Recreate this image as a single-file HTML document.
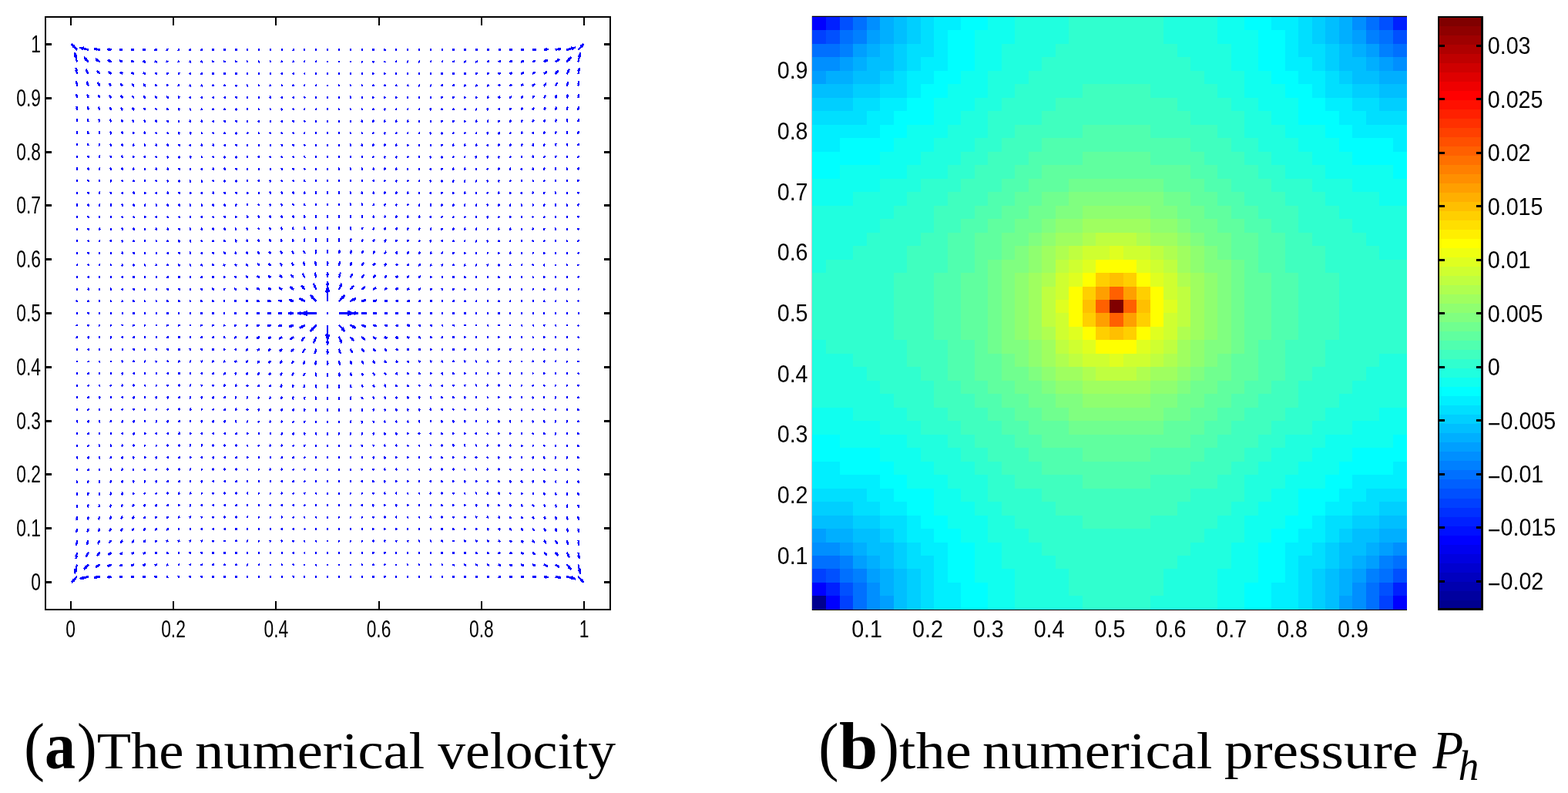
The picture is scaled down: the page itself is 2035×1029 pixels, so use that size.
<!DOCTYPE html>
<html><head><meta charset="utf-8"><title>Numerical velocity and pressure</title>
<style>
html,body{margin:0;padding:0;background:#fff}
body{width:2035px;height:1029px;overflow:hidden}
svg{display:block}
</style></head><body>
<svg width="2035" height="1029" viewBox="0 0 2035 1029">
<rect width="2035" height="1029" fill="#fff"/>
<g transform="scale(0.7526 1)" fill="none" stroke="#0000ff" shape-rendering="crispEdges">
<path d="M133.1 748L123.2 755.8M152.8 748.2L137.5 751.2M172.5 748.3L162.2 749.7M192.1 748.3L184.3 749.1M211.8 748.3L205.4 748.8M231.4 748.3L226 748.7M251 748.3L246.3 748.6M270.7 748.3L266.4 748.5M290.3 748.3L286.4 748.5M310 748.3L306.3 748.5M329.6 748.3L326.2 748.5M349.3 748.3L346.1 748.5M368.9 748.3L365.9 748.4M388.6 748.3L385.7 748.4M408.2 748.3L405.5 748.4M427.9 748.3L425.2 748.5M447.5 748.3L445 748.5M467.2 748.3L464.8 748.5M486.8 748.3L484.5 748.5M506.5 748.3L504.3 748.6M526.1 748.2L524 748.6M545.7 748.1L543.9 748.9M564.9 747.8L564.9 749.8M584.1 748.1L586 748.9M603.7 748.2L605.8 748.6M623.4 748.3L625.5 748.6M643 748.3L645.3 748.5M662.6 748.3L665.1 748.5M682.3 748.3L684.8 748.5M701.9 748.3L704.6 748.5M721.6 748.3L724.4 748.4M741.2 748.3L744.1 748.4M760.9 748.3L763.9 748.4M780.5 748.3L783.8 748.5M800.2 748.3L803.6 748.5M819.8 748.3L823.5 748.5M839.5 748.3L843.4 748.5M859.1 748.3L863.4 748.5M878.8 748.3L883.6 748.6M898.4 748.3L903.8 748.7M918.1 748.3L924.4 748.8M937.7 748.3L945.5 749.1M957.4 748.3L967.6 749.7M977 748.2L992.3 751.2M996.8 748L1006.6 755.8M132.8 732.3L129 744.7M152.7 732.5L144.7 738.8M172.4 732.6L164.8 736.2M192.1 732.6L185.4 734.9M211.7 732.7L205.9 734.2M231.4 732.7L226.3 733.8M251 732.7L246.4 733.6M270.7 732.7L266.5 733.4M290.3 732.7L286.5 733.3M310 732.7L306.4 733.2M329.6 732.7L326.2 733.2M349.3 732.7L346.1 733.2M368.9 732.7L365.9 733.1M388.6 732.7L385.7 733.1M408.2 732.7L405.5 733.1M427.9 732.7L425.3 733.2M447.5 732.7L445 733.2M467.2 732.7L464.8 733.2M486.8 732.6L484.6 733.3M506.4 732.6L504.4 733.4M526 732.5L524.2 733.6M545.6 732.4L544.3 734M564.9 732.3L564.9 734.3M584.2 732.4L585.6 734M603.8 732.5L605.6 733.6M623.4 732.6L625.5 733.4M643 732.6L645.3 733.3M662.7 732.7L665 733.2M682.3 732.7L684.8 733.2M701.9 732.7L704.6 733.2M721.6 732.7L724.3 733.1M741.2 732.7L744.1 733.1M760.9 732.7L763.9 733.1M780.5 732.7L783.7 733.2M800.2 732.7L803.6 733.2M819.8 732.7L823.4 733.2M839.5 732.7L843.4 733.3M859.1 732.7L863.3 733.4M878.8 732.7L883.4 733.6M898.4 732.7L903.6 733.8M918.1 732.7L923.9 734.2M937.7 732.6L944.4 734.9M957.4 732.6L965 736.2M977.1 732.5L985.1 738.8M997 732.3L1000.8 744.7M132.8 716.8L130.8 725.2M152.6 716.8L148 723.1M172.4 716.9L166.9 721.2M192 717L186.7 720M211.7 717L206.7 719.3M231.4 717.1L226.7 718.8M251 717.1L246.7 718.4M270.7 717.1L266.7 718.2M290.3 717.1L286.6 718.1M310 717.1L306.5 718M329.6 717.1L326.3 717.9M349.3 717.1L346.1 717.8M368.9 717.1L365.9 717.8M388.6 717.1L385.7 717.8M408.2 717.1L405.5 717.8M427.9 717.1L425.3 717.8M447.5 717.1L445.1 717.9M467.1 717.1L464.9 718M486.8 717L484.7 718.1M506.4 717L504.5 718.2M526 716.9L524.4 718.4M545.5 716.8L544.5 718.7M564.9 716.8L564.9 718.9M584.3 716.8L585.3 718.7M603.8 716.9L605.4 718.4M623.4 717L625.3 718.2M643 717L645.2 718.1M662.7 717.1L665 718M682.3 717.1L684.7 717.9M702 717.1L704.5 717.8M721.6 717.1L724.3 717.8M741.2 717.1L744.1 717.8M760.9 717.1L763.9 717.8M780.5 717.1L783.7 717.8M800.2 717.1L803.5 717.9M819.8 717.1L823.3 718M839.5 717.1L843.2 718.1M859.1 717.1L863.1 718.2M878.8 717.1L883.1 718.4M898.4 717.1L903.1 718.8M918.1 717L923.1 719.3M937.8 717L943.1 720M957.5 716.9L962.9 721.2M977.2 716.8L981.9 723.1M997 716.8L999 725.2M132.8 701.2L131.6 707.8M152.5 701.3L149.6 706.8M172.3 701.3L168.4 705.7M192 701.4L187.8 704.8M211.7 701.4L207.4 704.1M231.3 701.5L227.2 703.6M251 701.5L247.1 703.2M270.7 701.5L266.9 703M290.3 701.5L286.8 702.8M310 701.6L306.6 702.7M329.6 701.6L326.4 702.6M349.3 701.6L346.2 702.5M368.9 701.6L366 702.5M388.6 701.6L385.8 702.5M408.2 701.5L405.6 702.5M427.8 701.5L425.4 702.5M447.5 701.5L445.1 702.6M467.1 701.5L464.9 702.7M486.7 701.4L484.8 702.8M506.3 701.4L504.6 702.9M525.9 701.3L524.6 703.1M545.4 701.2L544.7 703.3M564.9 701.2L564.9 703.4M584.4 701.2L585.1 703.3M603.9 701.3L605.2 703.1M623.5 701.4L625.2 702.9M643.1 701.4L645.1 702.8M662.7 701.5L664.9 702.7M682.3 701.5L684.7 702.6M702 701.5L704.5 702.5M721.6 701.5L724.2 702.5M741.3 701.6L744 702.5M760.9 701.6L763.8 702.5M780.6 701.6L783.6 702.5M800.2 701.6L803.4 702.6M819.9 701.6L823.2 702.7M839.5 701.5L843 702.8M859.2 701.5L862.9 703M878.8 701.5L882.7 703.2M898.5 701.5L902.6 703.6M918.1 701.4L922.4 704.1M937.8 701.4L942.1 704.8M957.5 701.3L961.4 705.7M977.3 701.3L980.2 706.8M997.1 701.2L998.2 707.8M132.7 685.7L132 691.1M152.5 685.7L150.4 690.6M172.2 685.8L169.3 689.9M192 685.8L188.6 689.2M211.6 685.9L208.1 688.7M231.3 685.9L227.7 688.2M251 685.9L247.4 687.9M270.6 685.9L267.2 687.6M290.3 686L287 687.5M310 686L306.8 687.3M329.6 686L326.5 687.2M349.3 686L346.3 687.2M368.9 686L366.1 687.1M388.5 686L385.9 687.1M408.2 686L405.6 687.1M427.8 685.9L425.4 687.2M447.5 685.9L445.2 687.3M467.1 685.9L465 687.3M486.7 685.8L484.9 687.5M506.3 685.8L504.8 687.6M525.9 685.7L524.7 687.8M545.4 685.7L544.8 687.9M564.9 685.7L564.9 687.9M584.4 685.7L585 687.9M604 685.7L605.1 687.8M623.5 685.8L625.1 687.6M643.1 685.8L645 687.5M662.7 685.9L664.8 687.3M682.4 685.9L684.6 687.3M702 685.9L704.4 687.2M721.6 686L724.2 687.1M741.3 686L744 687.1M760.9 686L763.7 687.1M780.6 686L783.5 687.2M800.2 686L803.3 687.2M819.9 686L823 687.3M839.5 686L842.8 687.5M859.2 685.9L862.6 687.6M878.8 685.9L882.4 687.9M898.5 685.9L902.1 688.2M918.2 685.9L921.7 688.7M937.9 685.8L941.2 689.2M957.6 685.8L960.5 689.9M977.3 685.7L979.4 690.6M997.1 685.7L997.8 691.1M132.7 670.1L132.2 674.8M152.5 670.2L151 674.5M172.2 670.2L169.9 674.1M191.9 670.2L189.2 673.6M211.6 670.3L208.6 673.2M231.3 670.3L228.1 672.8M251 670.3L247.8 672.5M270.6 670.4L267.5 672.3M290.3 670.4L287.2 672.1M309.9 670.4L306.9 671.9M329.6 670.4L326.7 671.8M349.2 670.4L346.4 671.8M368.9 670.4L366.2 671.8M388.5 670.4L385.9 671.8M408.2 670.4L405.7 671.8M427.8 670.4L425.5 671.8M447.4 670.3L445.3 671.9M467 670.3L465.1 672M486.7 670.3L485 672.1M506.3 670.2L504.9 672.2M525.8 670.2L524.8 672.4M545.4 670.1L544.8 672.4M564.9 670.1L564.9 672.5M584.4 670.1L585 672.4M604 670.2L605 672.4M623.6 670.2L625 672.2M643.2 670.3L644.9 672.1M662.8 670.3L664.7 672M682.4 670.3L684.5 671.9M702 670.4L704.3 671.8M721.7 670.4L724.1 671.8M741.3 670.4L743.9 671.8M760.9 670.4L763.6 671.8M780.6 670.4L783.4 671.8M800.2 670.4L803.1 671.8M819.9 670.4L822.9 671.9M839.5 670.4L842.6 672.1M859.2 670.4L862.3 672.3M878.9 670.3L882 672.5M898.5 670.3L901.7 672.8M918.2 670.3L921.2 673.2M937.9 670.2L940.6 673.6M957.6 670.2L959.9 674.1M977.3 670.2L978.9 674.5M997.1 670.1L997.6 674.8M132.7 654.6L132.3 658.8M152.5 654.6L151.3 658.6M172.2 654.6L170.4 658.3M191.9 654.7L189.6 658M211.6 654.7L209 657.6M231.3 654.8L228.5 657.3M250.9 654.8L248.1 657M270.6 654.8L267.7 656.8M290.3 654.8L287.4 656.7M309.9 654.8L307.1 656.5M329.6 654.8L326.8 656.4M349.2 654.8L346.5 656.4M368.9 654.8L366.3 656.4M388.5 654.8L386 656.4M408.1 654.8L405.8 656.4M427.8 654.8L425.6 656.4M447.4 654.8L445.3 656.5M467 654.7L465.2 656.6M486.6 654.7L485 656.7M506.2 654.7L504.9 656.8M525.8 654.6L524.9 656.9M545.4 654.6L544.9 657M564.9 654.6L564.9 657M584.5 654.6L584.9 657M604 654.6L604.9 656.9M623.6 654.7L624.9 656.8M643.2 654.7L644.8 656.7M662.8 654.7L664.6 656.6M682.4 654.8L684.5 656.5M702 654.8L704.3 656.4M721.7 654.8L724 656.4M741.3 654.8L743.8 656.4M761 654.8L763.6 656.4M780.6 654.8L783.3 656.4M800.2 654.8L803 656.4M819.9 654.8L822.7 656.5M839.6 654.8L842.4 656.7M859.2 654.8L862.1 656.8M878.9 654.8L881.7 657M898.5 654.8L901.3 657.3M918.2 654.7L920.8 657.6M937.9 654.7L940.2 658M957.6 654.6L959.5 658.3M977.4 654.6L978.6 658.6M997.1 654.6L997.5 658.8M132.7 639.1L132.4 642.9M152.4 639.1L151.5 642.7M172.2 639.1L170.6 642.5M191.9 639.1L189.9 642.3M211.6 639.2L209.3 642M231.2 639.2L228.8 641.8M250.9 639.2L248.3 641.5M270.6 639.2L267.9 641.3M290.2 639.3L287.6 641.2M309.9 639.3L307.2 641.1M329.6 639.3L326.9 641M349.2 639.3L346.6 641M368.9 639.3L366.3 640.9M388.5 639.3L386.1 640.9M408.1 639.2L405.8 641M427.8 639.2L425.6 641M447.4 639.2L445.4 641.1M467 639.2L465.2 641.2M486.6 639.1L485.1 641.3M506.2 639.1L505 641.4M525.8 639.1L524.9 641.5M545.3 639.1L544.9 641.6M564.9 639L564.9 641.6M584.5 639.1L584.9 641.6M604 639.1L604.9 641.5M623.6 639.1L624.8 641.4M643.2 639.1L644.7 641.3M662.8 639.2L664.6 641.2M682.4 639.2L684.4 641.1M702.1 639.2L704.2 641M721.7 639.2L724 641M741.3 639.3L743.7 640.9M761 639.3L763.5 640.9M780.6 639.3L783.2 641M800.3 639.3L802.9 641M819.9 639.3L822.6 641.1M839.6 639.3L842.3 641.2M859.2 639.2L861.9 641.3M878.9 639.2L881.5 641.5M898.6 639.2L901 641.8M918.3 639.2L920.5 642M937.9 639.1L939.9 642.3M957.7 639.1L959.2 642.5M977.4 639.1L978.3 642.7M997.1 639.1L997.4 642.9M132.7 623.5L132.4 627M152.4 623.5L151.6 627M172.1 623.5L170.8 626.8M191.9 623.6L190.2 626.6M211.5 623.6L209.5 626.4M231.2 623.6L229 626.2M250.9 623.7L248.5 626M270.6 623.7L268.1 625.8M290.2 623.7L287.7 625.7M309.9 623.7L307.3 625.6M329.5 623.7L327 625.5M349.2 623.7L346.7 625.5M368.8 623.7L366.4 625.5M388.5 623.7L386.1 625.5M408.1 623.7L405.9 625.5M427.7 623.7L425.6 625.6M447.4 623.6L445.4 625.7M467 623.6L465.3 625.8M486.6 623.6L485.1 625.9M506.2 623.6L505 626M525.8 623.5L525 626.1M545.3 623.5L544.9 626.1M564.9 623.5L564.9 626.2M584.5 623.5L584.9 626.1M604.1 623.5L604.9 626.1M623.6 623.6L624.8 626M643.2 623.6L644.7 625.9M662.8 623.6L664.6 625.8M682.4 623.6L684.4 625.7M702.1 623.7L704.2 625.6M721.7 623.7L723.9 625.5M741.3 623.7L743.7 625.5M761 623.7L763.4 625.5M780.6 623.7L783.1 625.5M800.3 623.7L802.8 625.5M819.9 623.7L822.5 625.6M839.6 623.7L842.1 625.7M859.2 623.7L861.7 625.8M878.9 623.7L881.3 626M898.6 623.6L900.8 626.2M918.3 623.6L920.3 626.4M938 623.6L939.7 626.6M957.7 623.5L959 626.8M977.4 623.5L978.2 627M997.1 623.5L997.4 627M132.7 608L132.5 611.3M152.4 608L151.7 611.2M172.1 608L171 611.1M191.8 608L190.3 610.9M211.5 608.1L209.7 610.8M231.2 608.1L229.2 610.6M250.9 608.1L248.7 610.4M270.6 608.1L268.2 610.3M290.2 608.1L287.8 610.2M309.9 608.2L307.4 610.1M329.5 608.2L327.1 610M349.2 608.2L346.7 610M368.8 608.2L366.4 610M388.5 608.2L386.2 610M408.1 608.1L405.9 610.1M427.7 608.1L425.6 610.2M447.4 608.1L445.4 610.3M467 608.1L465.3 610.4M486.6 608L485.1 610.5M506.2 608L505 610.6M525.8 608L525 610.7M545.3 608L544.9 610.7M564.9 608L564.9 610.7M584.5 608L584.9 610.7M604.1 608L604.9 610.7M623.6 608L624.8 610.6M643.2 608L644.7 610.5M662.8 608.1L664.6 610.4M682.5 608.1L684.4 610.3M702.1 608.1L704.2 610.2M721.7 608.1L723.9 610.1M741.3 608.2L743.7 610M761 608.2L763.4 610M780.6 608.2L783.1 610M800.3 608.2L802.7 610M819.9 608.2L822.4 610.1M839.6 608.1L842 610.2M859.3 608.1L861.6 610.3M878.9 608.1L881.1 610.4M898.6 608.1L900.7 610.6M918.3 608.1L920.1 610.8M938 608L939.5 610.9M957.7 608L958.8 611.1M977.4 608L978.1 611.2M997.1 608L997.4 611.3M132.7 592.4L132.5 595.5M152.4 592.4L151.8 595.5M172.1 592.5L171.1 595.4M191.8 592.5L190.4 595.3M211.5 592.5L209.8 595.1M231.2 592.5L229.3 595M250.9 592.6L248.8 594.8M270.6 592.6L268.3 594.7M290.2 592.6L287.9 594.6M309.9 592.6L307.5 594.6M329.5 592.6L327.1 594.5M349.2 592.6L346.8 594.5M368.8 592.6L366.5 594.5M388.5 592.6L386.2 594.6M408.1 592.6L405.9 594.6M427.7 592.6L425.6 594.7M447.3 592.5L445.4 594.8M467 592.5L465.2 594.9M486.6 592.5L485.1 595M506.2 592.5L505 595.1M525.8 592.4L525 595.2M545.3 592.4L544.9 595.3M564.9 592.4L564.9 595.3M584.5 592.4L584.9 595.3M604.1 592.4L604.9 595.2M623.7 592.5L624.8 595.1M643.2 592.5L644.7 595M662.9 592.5L664.6 594.9M682.5 592.5L684.4 594.8M702.1 592.6L704.2 594.7M721.7 592.6L723.9 594.6M741.4 592.6L743.7 594.6M761 592.6L763.4 594.5M780.6 592.6L783 594.5M800.3 592.6L802.7 594.5M819.9 592.6L822.3 594.6M839.6 592.6L841.9 594.6M859.3 592.6L861.5 594.7M878.9 592.6L881 594.8M898.6 592.5L900.5 595M918.3 592.5L920 595.1M938 592.5L939.4 595.3M957.7 592.5L958.7 595.4M977.4 592.4L978.1 595.5M997.1 592.4L997.3 595.5M132.7 576.9L132.5 579.8M152.4 576.9L151.8 579.8M172.1 576.9L171.1 579.7M191.8 576.9L190.5 579.6M211.5 577L209.9 579.5M231.2 577L229.4 579.4M250.9 577L248.8 579.2M270.6 577L268.4 579.1M290.2 577.1L287.9 579.1M309.9 577.1L307.5 579M329.5 577.1L327.1 579M349.2 577.1L346.8 579M368.8 577.1L366.4 579M388.5 577.1L386.1 579M408.1 577.1L405.8 579.1M427.7 577L425.6 579.2M447.3 577L445.4 579.3M467 577L465.2 579.5M486.6 577L485 579.6M506.2 576.9L505 579.7M525.8 576.9L524.9 579.8M545.3 576.9L544.9 579.9M564.9 576.9L564.9 579.9M584.5 576.9L584.9 579.9M604.1 576.9L604.9 579.8M623.7 576.9L624.9 579.7M643.2 577L644.8 579.6M662.9 577L664.6 579.5M682.5 577L684.5 579.3M702.1 577L704.2 579.2M721.7 577.1L724 579.1M741.4 577.1L743.7 579M761 577.1L763.4 579M780.6 577.1L783 579M800.3 577.1L802.7 579M819.9 577.1L822.3 579M839.6 577.1L841.9 579.1M859.3 577L861.4 579.1M878.9 577L881 579.2M898.6 577L900.5 579.4M918.3 577L919.9 579.5M938 576.9L939.3 579.6M957.7 576.9L958.7 579.7M977.4 576.9L978 579.8M997.1 576.9L997.3 579.8M132.7 561.4L132.5 564.2M152.4 561.4L151.8 564.1M172.1 561.4L171.2 564.1M191.8 561.4L190.5 564M211.5 561.4L209.9 563.8M231.2 561.5L229.4 563.7M250.9 561.5L248.9 563.6M270.6 561.5L268.4 563.5M290.2 561.5L288 563.5M309.9 561.5L307.5 563.4M329.5 561.5L327.1 563.4M349.2 561.5L346.8 563.4M368.8 561.5L366.4 563.5M388.5 561.5L386.1 563.5M408.1 561.5L405.8 563.6M427.7 561.5L425.5 563.7M447.4 561.5L445.3 563.9M467 561.4L465.1 564M486.6 561.4L485 564.2M506.2 561.4L504.9 564.3M525.8 561.4L524.9 564.4M545.3 561.4L544.9 564.5M564.9 561.3L564.9 564.6M584.5 561.4L584.9 564.5M604.1 561.4L605 564.4M623.6 561.4L624.9 564.3M643.2 561.4L644.9 564.2M662.9 561.4L664.7 564M682.5 561.5L684.5 563.9M702.1 561.5L704.3 563.7M721.7 561.5L724 563.6M741.4 561.5L743.7 563.5M761 561.5L763.4 563.5M780.6 561.5L783.1 563.4M800.3 561.5L802.7 563.4M819.9 561.5L822.3 563.4M839.6 561.5L841.9 563.5M859.3 561.5L861.4 563.5M878.9 561.5L880.9 563.6M898.6 561.5L900.4 563.7M918.3 561.4L919.9 563.8M938 561.4L939.3 564M957.7 561.4L958.7 564.1M977.4 561.4L978 564.1M997.1 561.4L997.3 564.2M132.7 545.8L132.5 548.5M152.4 545.8L151.8 548.5M172.1 545.8L171.2 548.4M191.8 545.9L190.5 548.3M211.5 545.9L210 548.2M231.2 545.9L229.4 548.1M250.9 546L248.9 548M270.6 546L268.4 547.9M290.2 546L287.9 547.9M309.9 546L307.5 547.8M329.5 546L327.1 547.8M349.2 546L346.7 547.8M368.8 546L366.3 547.9M388.5 546L386 548M408.1 546L405.7 548.1M427.7 546L425.4 548.2M447.4 545.9L445.1 548.4M467 545.9L464.9 548.6M486.6 545.9L484.8 548.7M506.2 545.9L504.8 548.9M525.8 545.8L524.8 549.1M545.3 545.8L544.8 549.2M564.9 545.8L564.9 549.2M584.5 545.8L585 549.2M604.1 545.8L605.1 549.1M623.6 545.9L625.1 548.9M643.2 545.9L645 548.7M662.8 545.9L664.9 548.6M682.5 545.9L684.7 548.4M702.1 546L704.4 548.2M721.7 546L724.1 548.1M741.3 546L743.8 548M761 546L763.5 547.9M780.6 546L783.1 547.8M800.3 546L802.7 547.8M819.9 546L822.3 547.8M839.6 546L841.9 547.9M859.2 546L861.4 547.9M878.9 546L880.9 548M898.6 545.9L900.4 548.1M918.3 545.9L919.9 548.2M938 545.9L939.3 548.3M957.7 545.8L958.7 548.4M977.4 545.8L978 548.5M997.1 545.8L997.3 548.5M132.7 530.3L132.5 532.9M152.4 530.3L151.8 532.8M172.2 530.3L171.1 532.7M191.9 530.3L190.5 532.6M211.6 530.4L209.9 532.5M231.2 530.4L229.4 532.4M250.9 530.4L248.9 532.4M270.6 530.5L268.4 532.3M290.2 530.5L287.9 532.2M309.9 530.5L307.5 532.2M329.6 530.5L327 532.2M349.2 530.5L346.6 532.2M368.8 530.5L366.2 532.3M388.5 530.5L385.9 532.4M408.1 530.5L405.5 532.5M427.8 530.4L425.2 532.7M447.4 530.4L445 532.9M467 530.4L464.7 533.1M486.6 530.4L484.6 533.3M506.2 530.3L504.6 533.5M525.8 530.3L524.6 533.8M545.3 530.3L544.7 533.9M564.9 530.3L564.9 533.9M584.5 530.3L585.1 533.9M604 530.3L605.2 533.8M623.6 530.3L625.2 533.5M643.2 530.4L645.2 533.3M662.8 530.4L665.1 533.1M682.4 530.4L684.9 532.9M702.1 530.4L704.6 532.7M721.7 530.5L724.3 532.5M741.3 530.5L743.9 532.4M761 530.5L763.6 532.3M780.6 530.5L783.2 532.2M800.3 530.5L802.8 532.2M819.9 530.5L822.3 532.2M839.6 530.5L841.9 532.2M859.2 530.5L861.4 532.3M878.9 530.4L880.9 532.4M898.6 530.4L900.4 532.4M918.3 530.4L919.9 532.5M938 530.3L939.3 532.6M957.7 530.3L958.7 532.7M977.4 530.3L978 532.8M997.1 530.3L997.3 532.9M132.7 514.7L132.5 517.2M152.4 514.7L151.8 517.2M172.2 514.8L171.1 517.1M191.9 514.8L190.5 517M211.6 514.8L209.9 516.9M231.3 514.9L229.3 516.8M250.9 514.9L248.8 516.7M270.6 514.9L268.3 516.6M290.3 514.9L287.9 516.6M309.9 515L307.4 516.6M329.6 515L327 516.6M349.2 515L346.5 516.6M368.9 515L366.1 516.7M388.5 515L385.7 516.8M408.1 514.9L405.4 516.9M427.8 514.9L425 517.1M447.4 514.9L444.7 517.3M467 514.9L464.5 517.6M486.6 514.8L484.3 517.9M506.2 514.8L504.3 518.2M525.8 514.8L524.4 518.5M545.4 514.7L544.6 518.7M564.9 514.7L564.9 518.7M584.5 514.7L585.2 518.7M604 514.8L605.4 518.5M623.6 514.8L625.5 518.2M643.2 514.8L645.5 517.9M662.8 514.9L665.3 517.6M682.4 514.9L685.1 517.3M702 514.9L704.8 517.1M721.7 514.9L724.5 516.9M741.3 515L744.1 516.8M761 515L763.7 516.7M780.6 515L783.3 516.6M800.3 515L802.8 516.6M819.9 515L822.4 516.6M839.6 514.9L842 516.6M859.2 514.9L861.5 516.6M878.9 514.9L881 516.7M898.6 514.9L900.5 516.8M918.2 514.8L919.9 516.9M937.9 514.8L939.3 517M957.6 514.8L958.7 517.1M977.4 514.7L978 517.2M997.1 514.7L997.3 517.2M132.7 499.2L132.5 501.6M152.5 499.2L151.7 501.5M172.2 499.2L171 501.4M191.9 499.3L190.4 501.3M211.6 499.3L209.8 501.2M231.3 499.4L229.3 501.1M251 499.4L248.8 501M270.6 499.4L268.3 500.9M290.3 499.4L287.8 500.9M309.9 499.4L307.3 500.9M329.6 499.5L326.9 500.9M349.2 499.5L346.4 500.9M368.9 499.5L366 501M388.5 499.4L385.6 501.1M408.2 499.4L405.2 501.3M427.8 499.4L424.8 501.5M447.4 499.4L444.4 501.7M467 499.3L464.1 502.1M486.6 499.3L484 502.4M506.2 499.3L503.9 502.8M525.8 499.2L524.1 503.2M545.4 499.2L544.4 503.5M564.9 499.2L564.9 503.6M584.5 499.2L585.4 503.5M604 499.2L605.7 503.2M623.6 499.3L625.9 502.8M643.2 499.3L645.8 502.4M662.8 499.3L665.7 502.1M682.4 499.4L685.4 501.7M702 499.4L705 501.5M721.7 499.4L724.7 501.3M741.3 499.4L744.3 501.1M760.9 499.5L763.8 501M780.6 499.5L783.4 500.9M800.2 499.5L802.9 500.9M819.9 499.4L822.5 500.9M839.5 499.4L842 500.9M859.2 499.4L861.5 500.9M878.9 499.4L881.1 501M898.5 499.4L900.5 501.1M918.2 499.3L920 501.2M937.9 499.3L939.4 501.3M957.6 499.2L958.8 501.4M977.4 499.2L978.1 501.5M997.1 499.2L997.4 501.6M132.7 483.7L132.4 486M152.5 483.7L151.7 485.9M172.2 483.7L171 485.7M191.9 483.8L190.3 485.6M211.6 483.8L209.7 485.5M231.3 483.9L229.2 485.4M251 483.9L248.7 485.3M270.6 483.9L268.2 485.2M290.3 483.9L287.7 485.2M309.9 483.9L307.3 485.2M329.6 483.9L326.8 485.2M349.2 483.9L346.3 485.3M368.9 483.9L365.9 485.3M388.5 483.9L385.4 485.4M408.2 483.9L404.9 485.6M427.8 483.9L424.5 485.8M447.4 483.9L444.1 486.1M467.1 483.8L463.7 486.5M486.7 483.8L483.5 486.9M506.3 483.8L503.4 487.5M525.8 483.7L523.6 488M545.4 483.7L544.1 488.5M564.9 483.6L564.9 488.7M584.4 483.7L585.7 488.5M604 483.7L606.2 488M623.5 483.8L626.4 487.5M643.1 483.8L646.3 486.9M662.8 483.8L666.1 486.5M682.4 483.9L685.7 486.1M702 483.9L705.3 485.8M721.6 483.9L724.9 485.6M741.3 483.9L744.4 485.4M760.9 483.9L764 485.3M780.6 483.9L783.5 485.3M800.2 483.9L803 485.2M819.9 483.9L822.6 485.2M839.5 483.9L842.1 485.2M859.2 483.9L861.6 485.2M878.8 483.9L881.1 485.3M898.5 483.9L900.6 485.4M918.2 483.8L920.1 485.5M937.9 483.8L939.5 485.6M957.6 483.7L958.9 485.7M977.3 483.7L978.2 485.9M997.1 483.7L997.4 486M132.7 468.1L132.4 470.3M152.5 468.2L151.6 470.2M172.3 468.2L170.8 470M192 468.3L190.2 469.9M211.7 468.3L209.6 469.7M231.3 468.4L229.1 469.6M251 468.4L248.6 469.6M270.7 468.4L268.1 469.5M290.3 468.4L287.7 469.5M310 468.4L307.2 469.5M329.6 468.4L326.7 469.5M349.3 468.4L346.2 469.5M368.9 468.4L365.7 469.6M388.5 468.4L385.2 469.7M408.2 468.4L404.7 469.9M427.8 468.4L424.2 470.1M447.5 468.4L443.7 470.4M467.1 468.3L463.2 470.8M486.7 468.3L482.8 471.4M506.3 468.2L502.7 472.1M525.9 468.2L522.9 472.9M545.4 468.1L543.6 473.7M564.9 468.1L564.9 474.1M584.4 468.1L586.2 473.7M603.9 468.2L606.9 472.9M623.5 468.2L627.1 472.1M643.1 468.3L647 471.4M662.7 468.3L666.6 470.8M682.4 468.4L686.1 470.4M702 468.4L705.6 470.1M721.6 468.4L725.1 469.9M741.3 468.4L744.6 469.7M760.9 468.4L764.1 469.6M780.6 468.4L783.6 469.5M800.2 468.4L803.1 469.5M819.9 468.4L822.6 469.5M839.5 468.4L842.2 469.5M859.2 468.4L861.7 469.5M878.8 468.4L881.2 469.6M898.5 468.4L900.7 469.6M918.2 468.3L920.2 469.7M937.8 468.3L939.6 469.9M957.5 468.2L959 470M977.3 468.2L978.3 470.2M997.1 468.1L997.4 470.3M132.8 452.6L132.3 454.7M152.6 452.6L151.4 454.5M172.3 452.7L170.7 454.3M192 452.8L190.1 454.1M211.7 452.8L209.6 454M231.4 452.9L229 453.9M251 452.9L248.6 453.8M270.7 452.9L268.1 453.8M290.3 452.9L287.6 453.7M310 452.9L307.1 453.7M329.6 452.9L326.6 453.8M349.3 452.9L346.1 453.8M368.9 452.9L365.6 453.9M388.6 452.9L385 454M408.2 452.9L404.5 454.1M427.8 452.9L423.9 454.3M447.5 452.9L443.2 454.6M467.1 452.9L462.6 455M486.7 452.8L482 455.6M506.4 452.8L501.6 456.5M525.9 452.7L521.7 457.7M545.5 452.6L542.7 459.2M564.9 452.6L564.9 460.3M584.4 452.6L587.2 459.2M603.9 452.7L608.2 457.7M623.5 452.8L628.2 456.5M643.1 452.8L647.8 455.6M662.7 452.9L667.2 455M682.3 452.9L686.6 454.6M702 452.9L705.9 454.3M721.6 452.9L725.4 454.1M741.3 452.9L744.8 454M760.9 452.9L764.2 453.9M780.5 452.9L783.7 453.8M800.2 452.9L803.2 453.8M819.8 452.9L822.7 453.7M839.5 452.9L842.2 453.7M859.1 452.9L861.7 453.8M878.8 452.9L881.3 453.8M898.5 452.9L900.8 453.9M918.1 452.8L920.3 454M937.8 452.8L939.7 454.1M957.5 452.7L959.1 454.3M977.2 452.6L978.4 454.5M997 452.6L997.5 454.7M132.8 437.1L132.2 439M152.7 437.2L151.2 438.7M172.4 437.3L170.5 438.4M192.1 437.3L190 438.3M211.7 437.4L209.5 438.2M231.4 437.4L229 438.1M251 437.4L248.5 438M270.7 437.4L268 438M290.3 437.4L287.5 438M310 437.4L307.1 438M329.6 437.4L326.5 438M349.3 437.4L346 438M368.9 437.4L365.5 438.1M388.6 437.4L384.9 438.1M408.2 437.4L404.3 438.3M427.9 437.4L423.6 438.4M447.5 437.4L442.8 438.7M467.1 437.4L462 439M486.8 437.3L481.1 439.6M506.4 437.3L500.2 440.6M526 437.2L519.6 442.3M545.5 437.1L540.5 445.1M564.9 437L564.9 448.4M584.3 437.1L589.3 445.1M603.8 437.2L610.2 442.3M623.4 437.3L629.7 440.6M643 437.3L648.7 439.6M662.7 437.4L667.8 439M682.3 437.4L687 438.7M702 437.4L706.2 438.4M721.6 437.4L725.5 438.3M741.2 437.4L744.9 438.1M760.9 437.4L764.3 438.1M780.5 437.4L783.8 438M800.2 437.4L803.3 438M819.8 437.4L822.8 438M839.5 437.4L842.3 438M859.1 437.4L861.8 438M878.8 437.4L881.3 438M898.4 437.4L900.8 438.1M918.1 437.4L920.3 438.2M937.8 437.3L939.8 438.3M957.4 437.3L959.3 438.4M977.2 437.2L978.6 438.7M997 437.1L997.6 439M132.9 421.6L131.9 423.3M152.8 421.8L150.9 422.7M172.4 421.8L170.4 422.5M192.1 421.9L189.9 422.4M211.7 421.9L209.4 422.3M231.4 421.9L228.9 422.3M251 421.9L248.5 422.2M270.7 421.9L268 422.2M290.3 421.9L287.5 422.2M310 421.9L307 422.2M329.6 421.9L326.5 422.2M349.3 421.9L346 422.2M368.9 421.9L365.4 422.3M388.6 421.9L384.8 422.3M408.2 421.9L404.1 422.4M427.9 421.9L423.4 422.5M447.5 421.9L442.5 422.6M467.2 421.9L461.5 422.8M486.8 421.9L480.2 423.2M506.4 421.9L498.4 424M526.1 421.8L516.3 425.7M545.7 421.7L535 430.1M564.9 421.5L564.9 442.7M584.2 421.7L594.8 430.1M603.7 421.8L613.5 425.7M623.4 421.9L631.4 424M643 421.9L649.7 423.2M662.7 421.9L668.3 422.8M682.3 421.9L687.3 422.6M701.9 421.9L706.4 422.5M721.6 421.9L725.7 422.4M741.2 421.9L745 422.3M760.9 421.9L764.4 422.3M780.5 421.9L783.8 422.2M800.2 421.9L803.3 422.2M819.8 421.9L822.8 422.2M839.5 421.9L842.3 422.2M859.1 421.9L861.8 422.2M878.8 421.9L881.3 422.2M898.4 421.9L900.9 422.3M918.1 421.9L920.4 422.3M937.7 421.9L939.9 422.4M957.4 421.8L959.4 422.5M977.1 421.8L978.9 422.7M996.9 421.6L998 423.3M133.2 406.4L131.2 406.5M152.8 406.4L150.8 406.5M172.5 406.4L170.3 406.5M192.1 406.4L189.8 406.5M211.8 406.4L209.4 406.4M231.4 406.4L228.9 406.5M251 406.4L248.5 406.4M270.7 406.4L268 406.5M290.3 406.4L287.5 406.5M310 406.4L307 406.5M329.6 406.4L326.5 406.5M349.3 406.4L346 406.5M368.9 406.4L365.4 406.5M388.6 406.4L384.8 406.5M408.2 406.4L404.1 406.5M427.9 406.4L423.3 406.5M447.5 406.4L442.4 406.5M467.2 406.4L461.3 406.5M486.8 406.4L479.7 406.4M506.5 406.4L497.2 406.4M526.1 406.4L512.3 406.4M545.8 406.4L519.4 406.4M564.4 406.4L566.3 406.4M584.1 406.4L610.4 406.4M603.7 406.4L617.6 406.4M623.4 406.4L632.6 406.4M643 406.4L650.1 406.4M662.6 406.4L668.6 406.4M682.3 406.4L687.4 406.4M701.9 406.4L706.5 406.4M721.6 406.4L725.7 406.4M741.2 406.4L745.1 406.4M760.9 406.4L764.4 406.4M780.5 406.4L783.9 406.4M800.2 406.4L803.3 406.4M819.8 406.4L822.8 406.4M839.5 406.5L842.3 406.4M859.1 406.5L861.8 406.4M878.8 406.5L881.4 406.4M898.4 406.5L900.9 406.4M918.1 406.5L920.4 406.4M937.7 406.5L940 406.4M957.4 406.5L959.5 406.4M977 406.5L979.1 406.4M996.7 406.5L998.6 406.4M132.9 391.3L131.9 389.6M152.8 391.1L150.9 390.2M172.4 391.1L170.4 390.4M192.1 391L189.9 390.5M211.7 391L209.4 390.6M231.4 391L228.9 390.6M251 391L248.5 390.7M270.7 391L268 390.7M290.3 391L287.5 390.7M310 391L307 390.7M329.6 391L326.5 390.7M349.3 391L346 390.7M368.9 391L365.4 390.6M388.6 391L384.8 390.6M408.2 391L404.1 390.5M427.9 391L423.4 390.4M447.5 391L442.5 390.3M467.2 391L461.5 390.1M486.8 391L480.2 389.7M506.4 391L498.4 388.9M526.1 391.1L516.3 387.2M545.7 391.2L535 382.8M564.9 391.4L564.9 370.2M584.2 391.2L594.8 382.8M603.7 391.1L613.5 387.2M623.4 391L631.4 388.9M643 391L649.7 389.7M662.7 391L668.3 390.1M682.3 391L687.3 390.3M701.9 391L706.4 390.4M721.6 391L725.7 390.5M741.2 391L745 390.6M760.9 391L764.4 390.6M780.5 391L783.8 390.7M800.2 391L803.3 390.7M819.8 391L822.8 390.7M839.5 391L842.3 390.7M859.1 391L861.8 390.7M878.8 391L881.3 390.7M898.4 391L900.9 390.6M918.1 391L920.4 390.6M937.7 391L939.9 390.5M957.4 391.1L959.4 390.4M977.1 391.1L978.9 390.2M996.9 391.3L998 389.6M132.8 375.8L132.2 373.9M152.7 375.7L151.2 374.2M172.4 375.6L170.5 374.5M192.1 375.6L190 374.6M211.7 375.5L209.5 374.7M231.4 375.5L229 374.8M251 375.5L248.5 374.9M270.7 375.5L268 374.9M290.3 375.5L287.5 374.9M310 375.5L307.1 374.9M329.6 375.5L326.5 374.9M349.3 375.5L346 374.9M368.9 375.5L365.5 374.8M388.6 375.5L384.9 374.8M408.2 375.5L404.3 374.6M427.9 375.5L423.6 374.5M447.5 375.5L442.8 374.2M467.1 375.5L462 373.9M486.8 375.6L481.1 373.3M506.4 375.6L500.2 372.3M526 375.7L519.6 370.6M545.5 375.8L540.5 367.8M564.9 375.9L564.9 364.5M584.3 375.8L589.3 367.8M603.8 375.7L610.2 370.6M623.4 375.6L629.7 372.3M643 375.6L648.7 373.3M662.7 375.5L667.8 373.9M682.3 375.5L687 374.2M702 375.5L706.2 374.5M721.6 375.5L725.5 374.6M741.2 375.5L744.9 374.8M760.9 375.5L764.3 374.8M780.5 375.5L783.8 374.9M800.2 375.5L803.3 374.9M819.8 375.5L822.8 374.9M839.5 375.5L842.3 374.9M859.1 375.5L861.8 374.9M878.8 375.5L881.3 374.9M898.4 375.5L900.8 374.8M918.1 375.5L920.3 374.7M937.8 375.6L939.8 374.6M957.4 375.6L959.3 374.5M977.2 375.7L978.6 374.2M997 375.8L997.6 373.9M132.8 360.3L132.3 358.2M152.6 360.3L151.4 358.4M172.3 360.2L170.7 358.6M192 360.1L190.1 358.8M211.7 360.1L209.6 358.9M231.4 360L229 359M251 360L248.6 359.1M270.7 360L268.1 359.1M290.3 360L287.6 359.2M310 360L307.1 359.2M329.6 360L326.6 359.1M349.3 360L346.1 359.1M368.9 360L365.6 359M388.6 360L385 358.9M408.2 360L404.5 358.8M427.8 360L423.9 358.6M447.5 360L443.2 358.3M467.1 360L462.6 357.9M486.7 360.1L482 357.3M506.4 360.1L501.6 356.4M525.9 360.2L521.7 355.2M545.5 360.3L542.7 353.7M564.9 360.3L564.9 352.6M584.4 360.3L587.2 353.7M603.9 360.2L608.2 355.2M623.5 360.1L628.2 356.4M643.1 360.1L647.8 357.3M662.7 360L667.2 357.9M682.3 360L686.6 358.3M702 360L705.9 358.6M721.6 360L725.4 358.8M741.3 360L744.8 358.9M760.9 360L764.2 359M780.5 360L783.7 359.1M800.2 360L803.2 359.1M819.8 360L822.7 359.2M839.5 360L842.2 359.2M859.1 360L861.7 359.1M878.8 360L881.3 359.1M898.5 360L900.8 359M918.1 360.1L920.3 358.9M937.8 360.1L939.7 358.8M957.5 360.2L959.1 358.6M977.2 360.3L978.4 358.4M997 360.3L997.5 358.2M132.7 344.8L132.4 342.6M152.5 344.7L151.6 342.7M172.3 344.7L170.8 342.9M192 344.6L190.2 343M211.7 344.6L209.6 343.2M231.3 344.5L229.1 343.3M251 344.5L248.6 343.3M270.7 344.5L268.1 343.4M290.3 344.5L287.7 343.4M310 344.5L307.2 343.4M329.6 344.5L326.7 343.4M349.3 344.5L346.2 343.4M368.9 344.5L365.7 343.3M388.5 344.5L385.2 343.2M408.2 344.5L404.7 343M427.8 344.5L424.2 342.8M447.5 344.5L443.7 342.5M467.1 344.6L463.2 342.1M486.7 344.6L482.8 341.5M506.3 344.7L502.7 340.8M525.9 344.7L522.9 340M545.4 344.8L543.6 339.2M564.9 344.8L564.9 338.8M584.4 344.8L586.2 339.2M603.9 344.7L606.9 340M623.5 344.7L627.1 340.8M643.1 344.6L647 341.5M662.7 344.6L666.6 342.1M682.4 344.5L686.1 342.5M702 344.5L705.6 342.8M721.6 344.5L725.1 343M741.3 344.5L744.6 343.2M760.9 344.5L764.1 343.3M780.6 344.5L783.6 343.4M800.2 344.5L803.1 343.4M819.9 344.5L822.6 343.4M839.5 344.5L842.2 343.4M859.2 344.5L861.7 343.4M878.8 344.5L881.2 343.3M898.5 344.5L900.7 343.3M918.2 344.6L920.2 343.2M937.8 344.6L939.6 343M957.5 344.7L959 342.9M977.3 344.7L978.3 342.7M997.1 344.8L997.4 342.6M132.7 329.2L132.4 326.9M152.5 329.2L151.7 327M172.2 329.2L171 327.2M191.9 329.1L190.3 327.3M211.6 329.1L209.7 327.4M231.3 329L229.2 327.5M251 329L248.7 327.6M270.6 329L268.2 327.7M290.3 329L287.7 327.7M309.9 329L307.3 327.7M329.6 329L326.8 327.7M349.2 329L346.3 327.6M368.9 329L365.9 327.6M388.5 329L385.4 327.5M408.2 329L404.9 327.3M427.8 329L424.5 327.1M447.4 329L444.1 326.8M467.1 329.1L463.7 326.4M486.7 329.1L483.5 326M506.3 329.1L503.4 325.4M525.8 329.2L523.6 324.9M545.4 329.2L544.1 324.4M564.9 329.2L564.9 324.2M584.4 329.2L585.7 324.4M604 329.2L606.2 324.9M623.5 329.1L626.4 325.4M643.1 329.1L646.3 326M662.8 329.1L666.1 326.4M682.4 329L685.7 326.8M702 329L705.3 327.1M721.6 329L724.9 327.3M741.3 329L744.4 327.5M760.9 329L764 327.6M780.6 329L783.5 327.6M800.2 329L803 327.7M819.9 329L822.6 327.7M839.5 329L842.1 327.7M859.2 329L861.6 327.7M878.8 329L881.1 327.6M898.5 329L900.6 327.5M918.2 329.1L920.1 327.4M937.9 329.1L939.5 327.3M957.6 329.2L958.9 327.2M977.3 329.2L978.2 327M997.1 329.2L997.4 326.9M132.7 313.7L132.5 311.3M152.5 313.7L151.7 311.4M172.2 313.7L171 311.5M191.9 313.6L190.4 311.6M211.6 313.6L209.8 311.7M231.3 313.5L229.3 311.8M251 313.5L248.8 311.9M270.6 313.5L268.3 312M290.3 313.5L287.8 312M309.9 313.5L307.3 312M329.6 313.4L326.9 312M349.2 313.4L346.4 312M368.9 313.4L366 311.9M388.5 313.5L385.6 311.8M408.2 313.5L405.2 311.6M427.8 313.5L424.8 311.4M447.4 313.5L444.4 311.2M467 313.6L464.1 310.8M486.6 313.6L484 310.5M506.2 313.6L503.9 310.1M525.8 313.7L524.1 309.7M545.4 313.7L544.4 309.4M564.9 313.7L564.9 309.3M584.5 313.7L585.4 309.4M604 313.7L605.7 309.7M623.6 313.6L625.9 310.1M643.2 313.6L645.8 310.5M662.8 313.6L665.7 310.8M682.4 313.5L685.4 311.2M702 313.5L705 311.4M721.7 313.5L724.7 311.6M741.3 313.5L744.3 311.8M760.9 313.4L763.8 311.9M780.6 313.4L783.4 312M800.2 313.4L802.9 312M819.9 313.5L822.5 312M839.5 313.5L842 312M859.2 313.5L861.5 312M878.9 313.5L881.1 311.9M898.5 313.5L900.5 311.8M918.2 313.6L920 311.7M937.9 313.6L939.4 311.6M957.6 313.7L958.8 311.5M977.4 313.7L978.1 311.4M997.1 313.7L997.4 311.3M132.7 298.2L132.5 295.7M152.4 298.2L151.8 295.7M172.2 298.1L171.1 295.8M191.9 298.1L190.5 295.9M211.6 298.1L209.9 296M231.3 298L229.3 296.1M250.9 298L248.8 296.2M270.6 298L268.3 296.3M290.3 298L287.9 296.3M309.9 297.9L307.4 296.3M329.6 297.9L327 296.3M349.2 297.9L346.5 296.3M368.9 297.9L366.1 296.2M388.5 297.9L385.7 296.1M408.1 298L405.4 296M427.8 298L425 295.8M447.4 298L444.7 295.6M467 298L464.5 295.3M486.6 298.1L484.3 295M506.2 298.1L504.3 294.7M525.8 298.1L524.4 294.4M545.4 298.2L544.6 294.2M564.9 298.2L564.9 294.2M584.5 298.2L585.2 294.2M604 298.1L605.4 294.4M623.6 298.1L625.5 294.7M643.2 298.1L645.5 295M662.8 298L665.3 295.3M682.4 298L685.1 295.6M702 298L704.8 295.8M721.7 298L724.5 296M741.3 297.9L744.1 296.1M761 297.9L763.7 296.2M780.6 297.9L783.3 296.3M800.3 297.9L802.8 296.3M819.9 297.9L822.4 296.3M839.6 298L842 296.3M859.2 298L861.5 296.3M878.9 298L881 296.2M898.6 298L900.5 296.1M918.2 298.1L919.9 296M937.9 298.1L939.3 295.9M957.6 298.1L958.7 295.8M977.4 298.2L978 295.7M997.1 298.2L997.3 295.7M132.7 282.6L132.5 280M152.4 282.6L151.8 280.1M172.2 282.6L171.1 280.2M191.9 282.6L190.5 280.3M211.6 282.5L209.9 280.4M231.2 282.5L229.4 280.5M250.9 282.5L248.9 280.5M270.6 282.4L268.4 280.6M290.2 282.4L287.9 280.7M309.9 282.4L307.5 280.7M329.6 282.4L327 280.7M349.2 282.4L346.6 280.7M368.8 282.4L366.2 280.6M388.5 282.4L385.9 280.5M408.1 282.4L405.5 280.4M427.8 282.5L425.2 280.2M447.4 282.5L445 280M467 282.5L464.7 279.8M486.6 282.5L484.6 279.6M506.2 282.6L504.6 279.4M525.8 282.6L524.6 279.1M545.3 282.6L544.7 279M564.9 282.6L564.9 279M584.5 282.6L585.1 279M604 282.6L605.2 279.1M623.6 282.6L625.2 279.4M643.2 282.5L645.2 279.6M662.8 282.5L665.1 279.8M682.4 282.5L684.9 280M702.1 282.5L704.6 280.2M721.7 282.4L724.3 280.4M741.3 282.4L743.9 280.5M761 282.4L763.6 280.6M780.6 282.4L783.2 280.7M800.3 282.4L802.8 280.7M819.9 282.4L822.3 280.7M839.6 282.4L841.9 280.7M859.2 282.4L861.4 280.6M878.9 282.5L880.9 280.5M898.6 282.5L900.4 280.5M918.3 282.5L919.9 280.4M938 282.6L939.3 280.3M957.7 282.6L958.7 280.2M977.4 282.6L978 280.1M997.1 282.6L997.3 280M132.7 267.1L132.5 264.4M152.4 267.1L151.8 264.4M172.1 267.1L171.2 264.5M191.8 267L190.5 264.6M211.5 267L210 264.7M231.2 267L229.4 264.8M250.9 266.9L248.9 264.9M270.6 266.9L268.4 265M290.2 266.9L287.9 265M309.9 266.9L307.5 265.1M329.5 266.9L327.1 265.1M349.2 266.9L346.7 265.1M368.8 266.9L366.3 265M388.5 266.9L386 264.9M408.1 266.9L405.7 264.8M427.7 266.9L425.4 264.7M447.4 267L445.1 264.5M467 267L464.9 264.3M486.6 267L484.8 264.2M506.2 267L504.8 264M525.8 267.1L524.8 263.8M545.3 267.1L544.8 263.7M564.9 267.1L564.9 263.7M584.5 267.1L585 263.7M604.1 267.1L605.1 263.8M623.6 267L625.1 264M643.2 267L645 264.2M662.8 267L664.9 264.3M682.5 267L684.7 264.5M702.1 266.9L704.4 264.7M721.7 266.9L724.1 264.8M741.3 266.9L743.8 264.9M761 266.9L763.5 265M780.6 266.9L783.1 265.1M800.3 266.9L802.7 265.1M819.9 266.9L822.3 265.1M839.6 266.9L841.9 265M859.2 266.9L861.4 265M878.9 266.9L880.9 264.9M898.6 267L900.4 264.8M918.3 267L919.9 264.7M938 267L939.3 264.6M957.7 267.1L958.7 264.5M977.4 267.1L978 264.4M997.1 267.1L997.3 264.4M132.7 251.5L132.5 248.7M152.4 251.5L151.8 248.8M172.1 251.5L171.2 248.8M191.8 251.5L190.5 248.9M211.5 251.5L209.9 249.1M231.2 251.4L229.4 249.2M250.9 251.4L248.9 249.3M270.6 251.4L268.4 249.4M290.2 251.4L288 249.4M309.9 251.4L307.5 249.5M329.5 251.4L327.1 249.5M349.2 251.4L346.8 249.5M368.8 251.4L366.4 249.4M388.5 251.4L386.1 249.4M408.1 251.4L405.8 249.3M427.7 251.4L425.5 249.2M447.4 251.4L445.3 249M467 251.5L465.1 248.9M486.6 251.5L485 248.7M506.2 251.5L504.9 248.6M525.8 251.5L524.9 248.5M545.3 251.5L544.9 248.4M564.9 251.6L564.9 248.3M584.5 251.5L584.9 248.4M604.1 251.5L605 248.5M623.6 251.5L624.9 248.6M643.2 251.5L644.9 248.7M662.9 251.5L664.7 248.9M682.5 251.4L684.5 249M702.1 251.4L704.3 249.2M721.7 251.4L724 249.3M741.4 251.4L743.7 249.4M761 251.4L763.4 249.4M780.6 251.4L783.1 249.5M800.3 251.4L802.7 249.5M819.9 251.4L822.3 249.5M839.6 251.4L841.9 249.4M859.3 251.4L861.4 249.4M878.9 251.4L880.9 249.3M898.6 251.4L900.4 249.2M918.3 251.5L919.9 249.1M938 251.5L939.3 248.9M957.7 251.5L958.7 248.8M977.4 251.5L978 248.8M997.1 251.5L997.3 248.7M132.7 236L132.5 233.1M152.4 236L151.8 233.1M172.1 236L171.1 233.2M191.8 236L190.5 233.3M211.5 235.9L209.9 233.4M231.2 235.9L229.4 233.5M250.9 235.9L248.8 233.7M270.6 235.9L268.4 233.8M290.2 235.8L287.9 233.8M309.9 235.8L307.5 233.9M329.5 235.8L327.1 233.9M349.2 235.8L346.8 233.9M368.8 235.8L366.4 233.9M388.5 235.8L386.1 233.9M408.1 235.8L405.8 233.8M427.7 235.9L425.6 233.7M447.3 235.9L445.4 233.6M467 235.9L465.2 233.4M486.6 235.9L485 233.3M506.2 236L505 233.2M525.8 236L524.9 233.1M545.3 236L544.9 233M564.9 236L564.9 233M584.5 236L584.9 233M604.1 236L604.9 233.1M623.7 236L624.9 233.2M643.2 235.9L644.8 233.3M662.9 235.9L664.6 233.4M682.5 235.9L684.5 233.6M702.1 235.9L704.2 233.7M721.7 235.8L724 233.8M741.4 235.8L743.7 233.9M761 235.8L763.4 233.9M780.6 235.8L783 233.9M800.3 235.8L802.7 233.9M819.9 235.8L822.3 233.9M839.6 235.8L841.9 233.8M859.3 235.9L861.4 233.8M878.9 235.9L881 233.7M898.6 235.9L900.5 233.5M918.3 235.9L919.9 233.4M938 236L939.3 233.3M957.7 236L958.7 233.2M977.4 236L978 233.1M997.1 236L997.3 233.1M132.7 220.5L132.5 217.4M152.4 220.5L151.8 217.4M172.1 220.4L171.1 217.5M191.8 220.4L190.4 217.6M211.5 220.4L209.8 217.8M231.2 220.4L229.3 217.9M250.9 220.3L248.8 218.1M270.6 220.3L268.3 218.2M290.2 220.3L287.9 218.3M309.9 220.3L307.5 218.3M329.5 220.3L327.1 218.4M349.2 220.3L346.8 218.4M368.8 220.3L366.5 218.4M388.5 220.3L386.2 218.3M408.1 220.3L405.9 218.3M427.7 220.3L425.6 218.2M447.3 220.4L445.4 218.1M467 220.4L465.2 218M486.6 220.4L485.1 217.9M506.2 220.4L505 217.8M525.8 220.5L525 217.7M545.3 220.5L544.9 217.6M564.9 220.5L564.9 217.6M584.5 220.5L584.9 217.6M604.1 220.5L604.9 217.7M623.7 220.4L624.8 217.8M643.2 220.4L644.7 217.9M662.9 220.4L664.6 218M682.5 220.4L684.4 218.1M702.1 220.3L704.2 218.2M721.7 220.3L723.9 218.3M741.4 220.3L743.7 218.3M761 220.3L763.4 218.4M780.6 220.3L783 218.4M800.3 220.3L802.7 218.4M819.9 220.3L822.3 218.3M839.6 220.3L841.9 218.3M859.3 220.3L861.5 218.2M878.9 220.3L881 218.1M898.6 220.4L900.5 217.9M918.3 220.4L920 217.8M938 220.4L939.4 217.6M957.7 220.4L958.7 217.5M977.4 220.5L978.1 217.4M997.1 220.5L997.3 217.4M132.7 204.9L132.5 201.6M152.4 204.9L151.7 201.7M172.1 204.9L171 201.8M191.8 204.9L190.3 202M211.5 204.8L209.7 202.1M231.2 204.8L229.2 202.3M250.9 204.8L248.7 202.5M270.6 204.8L268.2 202.6M290.2 204.8L287.8 202.7M309.9 204.7L307.4 202.8M329.5 204.7L327.1 202.9M349.2 204.7L346.7 202.9M368.8 204.7L366.4 202.9M388.5 204.7L386.2 202.9M408.1 204.8L405.9 202.8M427.7 204.8L425.6 202.7M447.4 204.8L445.4 202.6M467 204.8L465.3 202.5M486.6 204.9L485.1 202.4M506.2 204.9L505 202.3M525.8 204.9L525 202.2M545.3 204.9L544.9 202.2M564.9 204.9L564.9 202.2M584.5 204.9L584.9 202.2M604.1 204.9L604.9 202.2M623.6 204.9L624.8 202.3M643.2 204.9L644.7 202.4M662.8 204.8L664.6 202.5M682.5 204.8L684.4 202.6M702.1 204.8L704.2 202.7M721.7 204.8L723.9 202.8M741.3 204.7L743.7 202.9M761 204.7L763.4 202.9M780.6 204.7L783.1 202.9M800.3 204.7L802.7 202.9M819.9 204.7L822.4 202.8M839.6 204.8L842 202.7M859.3 204.8L861.6 202.6M878.9 204.8L881.1 202.5M898.6 204.8L900.7 202.3M918.3 204.8L920.1 202.1M938 204.9L939.5 202M957.7 204.9L958.8 201.8M977.4 204.9L978.1 201.7M997.1 204.9L997.4 201.6M132.7 189.4L132.4 185.9M152.4 189.4L151.6 185.9M172.1 189.4L170.8 186.1M191.9 189.3L190.2 186.3M211.5 189.3L209.5 186.5M231.2 189.3L229 186.7M250.9 189.2L248.5 186.9M270.6 189.2L268.1 187.1M290.2 189.2L287.7 187.2M309.9 189.2L307.3 187.3M329.5 189.2L327 187.4M349.2 189.2L346.7 187.4M368.8 189.2L366.4 187.4M388.5 189.2L386.1 187.4M408.1 189.2L405.9 187.4M427.7 189.2L425.6 187.3M447.4 189.3L445.4 187.2M467 189.3L465.3 187.1M486.6 189.3L485.1 187M506.2 189.3L505 186.9M525.8 189.4L525 186.8M545.3 189.4L544.9 186.8M564.9 189.4L564.9 186.7M584.5 189.4L584.9 186.8M604.1 189.4L604.9 186.8M623.6 189.3L624.8 186.9M643.2 189.3L644.7 187M662.8 189.3L664.6 187.1M682.4 189.3L684.4 187.2M702.1 189.2L704.2 187.3M721.7 189.2L723.9 187.4M741.3 189.2L743.7 187.4M761 189.2L763.4 187.4M780.6 189.2L783.1 187.4M800.3 189.2L802.8 187.4M819.9 189.2L822.5 187.3M839.6 189.2L842.1 187.2M859.2 189.2L861.7 187.1M878.9 189.2L881.3 186.9M898.6 189.3L900.8 186.7M918.3 189.3L920.3 186.5M938 189.3L939.7 186.3M957.7 189.4L959 186.1M977.4 189.4L978.2 185.9M997.1 189.4L997.4 185.9M132.7 173.8L132.4 170M152.4 173.8L151.5 170.2M172.2 173.8L170.6 170.4M191.9 173.8L189.9 170.6M211.6 173.7L209.3 170.9M231.2 173.7L228.8 171.1M250.9 173.7L248.3 171.4M270.6 173.7L267.9 171.6M290.2 173.6L287.6 171.7M309.9 173.6L307.2 171.8M329.6 173.6L326.9 171.9M349.2 173.6L346.6 171.9M368.9 173.6L366.3 172M388.5 173.6L386.1 172M408.1 173.7L405.8 171.9M427.8 173.7L425.6 171.9M447.4 173.7L445.4 171.8M467 173.7L465.2 171.7M486.6 173.8L485.1 171.6M506.2 173.8L505 171.5M525.8 173.8L524.9 171.4M545.3 173.8L544.9 171.3M564.9 173.8L564.9 171.3M584.5 173.8L584.9 171.3M604 173.8L604.9 171.4M623.6 173.8L624.8 171.5M643.2 173.8L644.7 171.6M662.8 173.7L664.6 171.7M682.4 173.7L684.4 171.8M702.1 173.7L704.2 171.9M721.7 173.7L724 171.9M741.3 173.6L743.7 172M761 173.6L763.5 172M780.6 173.6L783.2 171.9M800.3 173.6L802.9 171.9M819.9 173.6L822.6 171.8M839.6 173.6L842.3 171.7M859.2 173.7L861.9 171.6M878.9 173.7L881.5 171.4M898.6 173.7L901 171.1M918.3 173.7L920.5 170.9M937.9 173.8L939.9 170.6M957.7 173.8L959.2 170.4M977.4 173.8L978.3 170.2M997.1 173.8L997.4 170M132.7 158.3L132.3 154.1M152.5 158.3L151.3 154.3M172.2 158.3L170.4 154.6M191.9 158.2L189.6 154.9M211.6 158.2L209 155.3M231.3 158.1L228.5 155.6M250.9 158.1L248.1 155.9M270.6 158.1L267.7 156.1M290.3 158.1L287.4 156.2M309.9 158.1L307.1 156.4M329.6 158.1L326.8 156.5M349.2 158.1L346.5 156.5M368.9 158.1L366.3 156.5M388.5 158.1L386 156.5M408.1 158.1L405.8 156.5M427.8 158.1L425.6 156.5M447.4 158.1L445.3 156.4M467 158.2L465.2 156.3M486.6 158.2L485 156.2M506.2 158.2L504.9 156.1M525.8 158.3L524.9 156M545.4 158.3L544.9 155.9M564.9 158.3L564.9 155.9M584.5 158.3L584.9 155.9M604 158.3L604.9 156M623.6 158.2L624.9 156.1M643.2 158.2L644.8 156.2M662.8 158.2L664.6 156.3M682.4 158.1L684.5 156.4M702 158.1L704.3 156.5M721.7 158.1L724 156.5M741.3 158.1L743.8 156.5M761 158.1L763.6 156.5M780.6 158.1L783.3 156.5M800.2 158.1L803 156.5M819.9 158.1L822.7 156.4M839.6 158.1L842.4 156.2M859.2 158.1L862.1 156.1M878.9 158.1L881.7 155.9M898.5 158.1L901.3 155.6M918.2 158.2L920.8 155.3M937.9 158.2L940.2 154.9M957.6 158.3L959.5 154.6M977.4 158.3L978.6 154.3M997.1 158.3L997.5 154.1M132.7 142.8L132.2 138.1M152.5 142.7L151 138.4M172.2 142.7L169.9 138.8M191.9 142.7L189.2 139.3M211.6 142.6L208.6 139.7M231.3 142.6L228.1 140.1M251 142.6L247.8 140.4M270.6 142.5L267.5 140.6M290.3 142.5L287.2 140.8M309.9 142.5L306.9 141M329.6 142.5L326.7 141.1M349.2 142.5L346.4 141.1M368.9 142.5L366.2 141.1M388.5 142.5L385.9 141.1M408.2 142.5L405.7 141.1M427.8 142.5L425.5 141.1M447.4 142.6L445.3 141M467 142.6L465.1 140.9M486.7 142.6L485 140.8M506.3 142.7L504.9 140.7M525.8 142.7L524.8 140.5M545.4 142.8L544.8 140.5M564.9 142.8L564.9 140.4M584.4 142.8L585 140.5M604 142.7L605 140.5M623.6 142.7L625 140.7M643.2 142.6L644.9 140.8M662.8 142.6L664.7 140.9M682.4 142.6L684.5 141M702 142.5L704.3 141.1M721.7 142.5L724.1 141.1M741.3 142.5L743.9 141.1M760.9 142.5L763.6 141.1M780.6 142.5L783.4 141.1M800.2 142.5L803.1 141.1M819.9 142.5L822.9 141M839.5 142.5L842.6 140.8M859.2 142.5L862.3 140.6M878.9 142.6L882 140.4M898.5 142.6L901.7 140.1M918.2 142.6L921.2 139.7M937.9 142.7L940.6 139.3M957.6 142.7L959.9 138.8M977.3 142.7L978.9 138.4M997.1 142.8L997.6 138.1M132.7 127.2L132 121.8M152.5 127.2L150.4 122.3M172.2 127.1L169.3 123M192 127.1L188.6 123.7M211.6 127L208.1 124.2M231.3 127L227.7 124.7M251 127L247.4 125M270.6 127L267.2 125.3M290.3 126.9L287 125.4M310 126.9L306.8 125.6M329.6 126.9L326.5 125.7M349.3 126.9L346.3 125.7M368.9 126.9L366.1 125.8M388.5 126.9L385.9 125.8M408.2 126.9L405.6 125.8M427.8 127L425.4 125.7M447.5 127L445.2 125.6M467.1 127L465 125.6M486.7 127.1L484.9 125.4M506.3 127.1L504.8 125.3M525.9 127.2L524.7 125.1M545.4 127.2L544.8 125M564.9 127.2L564.9 125M584.4 127.2L585 125M604 127.2L605.1 125.1M623.5 127.1L625.1 125.3M643.1 127.1L645 125.4M662.7 127L664.8 125.6M682.4 127L684.6 125.6M702 127L704.4 125.7M721.6 126.9L724.2 125.8M741.3 126.9L744 125.8M760.9 126.9L763.7 125.8M780.6 126.9L783.5 125.7M800.2 126.9L803.3 125.7M819.9 126.9L823 125.6M839.5 126.9L842.8 125.4M859.2 127L862.6 125.3M878.8 127L882.4 125M898.5 127L902.1 124.7M918.2 127L921.7 124.2M937.9 127.1L941.2 123.7M957.6 127.1L960.5 123M977.3 127.2L979.4 122.3M997.1 127.2L997.8 121.8M132.8 111.7L131.6 105.1M152.5 111.6L149.6 106.1M172.3 111.6L168.4 107.2M192 111.5L187.8 108.1M211.7 111.5L207.4 108.8M231.3 111.4L227.2 109.3M251 111.4L247.1 109.7M270.7 111.4L266.9 109.9M290.3 111.4L286.8 110.1M310 111.3L306.6 110.2M329.6 111.3L326.4 110.3M349.3 111.3L346.2 110.4M368.9 111.3L366 110.4M388.6 111.3L385.8 110.4M408.2 111.4L405.6 110.4M427.8 111.4L425.4 110.4M447.5 111.4L445.1 110.3M467.1 111.4L464.9 110.2M486.7 111.5L484.8 110.1M506.3 111.5L504.6 110M525.9 111.6L524.6 109.8M545.4 111.7L544.7 109.6M564.9 111.7L564.9 109.5M584.4 111.7L585.1 109.6M603.9 111.6L605.2 109.8M623.5 111.5L625.2 110M643.1 111.5L645.1 110.1M662.7 111.4L664.9 110.2M682.3 111.4L684.7 110.3M702 111.4L704.5 110.4M721.6 111.4L724.2 110.4M741.3 111.3L744 110.4M760.9 111.3L763.8 110.4M780.6 111.3L783.6 110.4M800.2 111.3L803.4 110.3M819.9 111.3L823.2 110.2M839.5 111.4L843 110.1M859.2 111.4L862.9 109.9M878.8 111.4L882.7 109.7M898.5 111.4L902.6 109.3M918.1 111.5L922.4 108.8M937.8 111.5L942.1 108.1M957.5 111.6L961.4 107.2M977.3 111.6L980.2 106.1M997.1 111.7L998.2 105.1M132.8 96.1L130.8 87.7M152.6 96.1L148 89.8M172.4 96L166.9 91.7M192 95.9L186.7 92.9M211.7 95.9L206.7 93.6M231.4 95.8L226.7 94.1M251 95.8L246.7 94.5M270.7 95.8L266.7 94.7M290.3 95.8L286.6 94.8M310 95.8L306.5 94.9M329.6 95.8L326.3 95M349.3 95.8L346.1 95.1M368.9 95.8L365.9 95.1M388.6 95.8L385.7 95.1M408.2 95.8L405.5 95.1M427.9 95.8L425.3 95.1M447.5 95.8L445.1 95M467.1 95.8L464.9 94.9M486.8 95.9L484.7 94.8M506.4 95.9L504.5 94.7M526 96L524.4 94.5M545.5 96.1L544.5 94.2M564.9 96.2L564.9 94M584.3 96.1L585.3 94.2M603.8 96L605.4 94.5M623.4 95.9L625.3 94.7M643 95.9L645.2 94.8M662.7 95.8L665 94.9M682.3 95.8L684.7 95M702 95.8L704.5 95.1M721.6 95.8L724.3 95.1M741.2 95.8L744.1 95.1M760.9 95.8L763.9 95.1M780.5 95.8L783.7 95.1M800.2 95.8L803.5 95M819.8 95.8L823.3 94.9M839.5 95.8L843.2 94.8M859.1 95.8L863.1 94.7M878.8 95.8L883.1 94.5M898.4 95.8L903.1 94.1M918.1 95.9L923.1 93.6M937.8 95.9L943.1 92.9M957.5 96L962.9 91.7M977.2 96.1L981.9 89.8M997 96.1L999 87.7M132.8 80.6L129 68.2M152.7 80.4L144.7 74.1M172.4 80.3L164.8 76.7M192.1 80.3L185.4 78M211.7 80.2L205.9 78.7M231.4 80.2L226.3 79.1M251 80.2L246.4 79.3M270.7 80.2L266.5 79.5M290.3 80.2L286.5 79.6M310 80.2L306.4 79.7M329.6 80.2L326.2 79.7M349.3 80.2L346.1 79.7M368.9 80.2L365.9 79.8M388.6 80.2L385.7 79.8M408.2 80.2L405.5 79.8M427.9 80.2L425.3 79.7M447.5 80.2L445 79.7M467.2 80.2L464.8 79.7M486.8 80.3L484.6 79.6M506.4 80.3L504.4 79.5M526 80.4L524.2 79.3M545.6 80.5L544.3 78.9M564.9 80.6L564.9 78.6M584.2 80.5L585.6 78.9M603.8 80.4L605.6 79.3M623.4 80.3L625.5 79.5M643 80.3L645.3 79.6M662.7 80.2L665 79.7M682.3 80.2L684.8 79.7M701.9 80.2L704.6 79.7M721.6 80.2L724.3 79.8M741.2 80.2L744.1 79.8M760.9 80.2L763.9 79.8M780.5 80.2L783.7 79.7M800.2 80.2L803.6 79.7M819.8 80.2L823.4 79.7M839.5 80.2L843.4 79.6M859.1 80.2L863.3 79.5M878.8 80.2L883.4 79.3M898.4 80.2L903.6 79.1M918.1 80.2L923.9 78.7M937.7 80.3L944.4 78M957.4 80.3L965 76.7M977.1 80.4L985.1 74.1M997 80.6L1000.8 68.2M133.1 64.9L123.2 57.1M152.8 64.7L137.5 61.7M172.5 64.6L162.2 63.2M192.1 64.6L184.3 63.8M211.8 64.6L205.4 64.1M231.4 64.6L226 64.2M251 64.6L246.3 64.3M270.7 64.6L266.4 64.4M290.3 64.6L286.4 64.4M310 64.6L306.3 64.4M329.6 64.6L326.2 64.4M349.3 64.6L346.1 64.4M368.9 64.6L365.9 64.5M388.6 64.6L385.7 64.5M408.2 64.6L405.5 64.5M427.9 64.6L425.2 64.4M447.5 64.6L445 64.4M467.2 64.6L464.8 64.4M486.8 64.6L484.5 64.4M506.5 64.6L504.3 64.3M526.1 64.7L524 64.3M545.7 64.8L543.9 64M564.9 65.1L564.9 63.1M584.1 64.8L586 64M603.7 64.7L605.8 64.3M623.4 64.6L625.5 64.3M643 64.6L645.3 64.4M662.6 64.6L665.1 64.4M682.3 64.6L684.8 64.4M701.9 64.6L704.6 64.4M721.6 64.6L724.4 64.5M741.2 64.6L744.1 64.5M760.9 64.6L763.9 64.5M780.5 64.6L783.8 64.4M800.2 64.6L803.6 64.4M819.8 64.6L823.5 64.4M839.5 64.6L843.4 64.4M859.1 64.6L863.4 64.4M878.8 64.6L883.6 64.3M898.4 64.6L903.8 64.2M918.1 64.6L924.4 64.1M937.7 64.6L945.5 63.8M957.4 64.6L967.6 63.2M977 64.7L992.3 61.7M996.8 64.9L1006.6 57.1" stroke-width="2.8" stroke-linecap="butt"/>
<path d="M128 753.5L124.3 755L126.1 752.1M143.7 751.2L138.9 750.9L143 748.9M166.5 749.9L163.6 749.5L166.2 748.4M187.7 749.3L185.7 749L187.6 748.3M208.3 749L206.8 748.7L208.2 748.2M228.6 748.8L227.4 748.6L228.5 748.2M248.6 748.7L247.7 748.5L248.6 748.2M881.2 748.2L882.2 748.5L881.2 748.7M901.3 748.2L902.5 748.6L901.2 748.8M921.6 748.2L923 748.7L921.5 749M942.2 748.3L944.1 749L942.1 749.3M963.6 748.4L966.2 749.5L963.3 749.9M986.8 748.9L990.9 750.9L986.1 751.2M1003.7 752.1L1005.5 755L1001.9 753.5M131.9 740.2L129.4 743.4L129 739.6M148.7 736.8L145.8 737.9L147.2 735.7M168.4 735.2L166 735.6L167.6 734.1M188.6 734.3L186.7 734.4L188.1 733.5M208.7 733.8L207.3 733.8L208.5 733.1M228.8 733.5L227.6 733.5L228.6 733M248.8 733.4L247.8 733.3L248.6 732.9M881.2 732.9L882 733.3L881 733.4M901.2 733L902.2 733.5L901 733.5M921.4 733.1L922.5 733.8L921.1 733.8M941.7 733.5L943.1 734.4L941.2 734.3M962.2 734.1L963.8 735.6L961.4 735.2M982.6 735.7L984 737.9L981.2 736.8M1000.8 739.6L1000.4 743.4L997.9 740.2M132.6 721.8L131.1 723.9L130.7 721.6M150.6 720.7L148.8 721.9L149.3 720.1M169.7 719.7L168 720.4L168.9 719M189.4 719L187.9 719.3L188.8 718.3M209.3 718.5L208 718.7L208.9 717.9M229.1 718.2L228 718.3L228.8 717.7M249 718L248.1 718L248.8 717.6M881 717.6L881.7 718L880.8 718M901 717.7L901.8 718.3L900.7 718.2M921 717.9L921.9 718.7L920.6 718.5M941 718.3L941.9 719.3L940.4 719M960.9 719L961.8 720.4L960.1 719.7M980.5 720.1L981 721.9L979.2 720.7M999.1 721.6L998.7 723.9L997.3 721.8M132.8 704.9L131.8 706.4L131.5 704.8M151.5 704.5L150.2 705.6L150.4 704.1M170.6 703.9L169.3 704.6L169.8 703.4M190.1 703.4L188.8 703.9L189.5 702.9M209.7 703L208.6 703.3L209.3 702.6M229.5 702.7L228.5 702.9L229.1 702.3M900.7 702.3L901.3 702.9L900.4 702.7M920.6 702.6L921.2 703.3L920.1 703M940.4 702.9L941 703.9L939.8 703.4M960 703.4L960.5 704.6L959.2 703.9M979.4 704.1L979.6 705.6L978.4 704.5M998.3 704.8L998 706.4L997.1 704.9M132.8 688.6L132.2 689.7L131.8 688.5M151.9 688.4L151 689.3L151 688.2M171.1 688.1L170.1 688.8L170.4 687.8M190.5 687.7L189.6 688.3L189.9 687.4M210.1 687.5L209.2 687.8L209.6 687.1M920.2 687.1L920.6 687.8L919.7 687.5M939.9 687.4L940.3 688.3L939.3 687.7M959.4 687.8L959.7 688.8L958.7 688.1M978.8 688.2L978.8 689.3L978 688.4M998 688.5L997.6 689.7L997 688.6M132.8 672.5L132.3 673.4L132.1 672.5M152.1 672.4L151.4 673.2L151.4 672.3M171.4 672.3L170.6 672.9L170.8 672M959 672L959.2 672.9L958.4 672.3M978.5 672.3L978.4 673.2L977.8 672.4M997.8 672.5L997.5 673.4L997 672.5M545.2 501.4L544.7 502.1L544.6 501.3M565.3 501.4L564.9 502.2L564.6 501.4M585.2 501.3L585.1 502.1L584.6 501.4M485.3 485.5L484.5 486L484.8 485.2M505.1 485.8L504.3 486.4L504.5 485.5M525.1 486L524.3 486.8L524.3 485.8M545.2 486.2L544.5 487.2L544.3 486.1M565.3 486.3L564.9 487.3L564.5 486.3M585.5 486.1L585.3 487.2L584.7 486.2M605.5 485.8L605.5 486.8L604.7 486M625.3 485.5L625.5 486.4L624.7 485.8M645 485.2L645.3 486L644.5 485.5M465.3 469.8L464.4 470.1L464.9 469.4M485 470.1L483.9 470.5L484.5 469.7M504.7 470.4L503.6 471.1L504.1 470M524.7 470.9L523.6 471.7L523.9 470.5M545 471.2L544.1 472.4L543.9 471M565.5 471.4L564.9 472.7L564.3 471.4M585.9 471L585.8 472.4L584.8 471.2M606 470.5L606.2 471.7L605.1 470.9M625.7 470L626.2 471.1L625.1 470.4M645.3 469.7L645.9 470.5L644.8 470.1M664.9 469.4L665.4 470.1L664.5 469.8M445.5 454L444.5 454.1L445.2 453.5M465 454.2L463.9 454.4L464.6 453.7M484.5 454.6L483.2 454.9L484 454M504.1 455.1L502.7 455.6L503.4 454.5M524.1 455.8L522.6 456.7L523.1 455.2M544.6 456.5L543.2 458L543.2 456.2M565.7 457L564.9 458.9L564.1 457M586.6 456.2L586.6 458L585.3 456.5M606.7 455.2L607.2 456.7L605.7 455.8M626.4 454.5L627.1 455.6L625.7 455.1M645.8 454L646.6 454.9L645.3 454.6M665.2 453.7L665.9 454.4L664.8 454.2M684.6 453.5L685.3 454.1L684.3 454M445.2 438.3L444.2 438.3L445 437.8M464.6 438.5L463.3 438.6L464.3 438M483.9 438.9L482.4 439.1L483.5 438.2M503.2 439.5L501.4 439.9L502.6 438.8M522.9 440.6L520.7 441.4L521.8 439.7M543.4 442.1L541.2 443.9L541.7 441.4M566.2 443.9L564.9 447L563.6 443.9M588.1 441.4L588.6 443.9L586.4 442.1M608 439.7L609.1 441.4L607 440.6M627.2 438.8L628.4 439.9L626.6 439.5M646.4 438.2L647.4 439.1L645.9 438.9M665.5 438L666.5 438.6L665.2 438.5M684.8 437.8L685.6 438.3L684.6 438.3M425.7 422.4L424.8 422.3L425.6 422M445 422.5L443.9 422.4L444.9 422M464.2 422.7L462.9 422.6L464 422.1M483.2 423L481.5 422.9L483 422.2M502 423.6L499.8 423.6L501.6 422.6M520.7 424.8L517.6 425.2L519.8 423.4M540.1 427.6L536.1 429.2L538.2 426M567.6 434.9L564.9 441.3L562.2 434.9M591.7 426L593.7 429.2L589.7 427.6M610 423.4L612.2 425.2L609.1 424.8M628.2 422.6L630 423.6L627.8 423.6M646.8 422.2L648.3 422.9L646.6 423M665.8 422.1L667 422.6L665.6 422.7M684.9 422L685.9 422.4L684.8 422.5M704.2 422L705 422.3L704.1 422.4M425.6 406.7L424.7 406.5L425.6 406.2M444.9 406.7L443.8 406.5L444.9 406.2M464 406.8L462.7 406.5L464 406.1M482.8 406.9L481.1 406.4L482.8 406M501 407.1L498.6 406.4L501 405.8M517.6 407.5L513.7 406.4L517.6 405.4M528.9 408.6L520.8 406.4L528.9 404.3M600.9 404.3L609 406.4L600.9 408.6M612.2 405.4L616.2 406.4L612.2 407.5M628.8 405.8L631.2 406.4L628.8 407.1M647 406L648.7 406.4L647 406.9M665.8 406.1L667.2 406.4L665.8 406.8M684.9 406.2L686 406.4L684.9 406.7M704.2 406.2L705.1 406.4L704.2 406.7M425.6 390.9L424.8 390.6L425.7 390.5M444.9 390.9L443.9 390.5L445 390.4M464 390.8L462.9 390.3L464.2 390.2M483 390.7L481.5 390L483.2 389.9M501.6 390.3L499.8 389.3L502 389.3M519.8 389.5L517.6 387.7L520.7 388.1M538.2 386.9L536.1 383.7L540.1 385.3M562.2 378L564.9 371.6L567.6 378M589.7 385.3L593.7 383.7L591.7 386.9M609.1 388.1L612.2 387.7L610 389.5M627.8 389.3L630 389.3L628.2 390.3M646.6 389.9L648.3 390L646.8 390.7M665.6 390.2L667 390.3L665.8 390.8M684.8 390.4L685.9 390.5L684.9 390.9M704.1 390.5L705 390.6L704.2 390.9M445 375.1L444.2 374.6L445.2 374.6M464.3 374.9L463.3 374.3L464.6 374.4M483.5 374.7L482.4 373.8L483.9 374M502.6 374.1L501.4 373L503.2 373.4M521.8 373.2L520.7 371.5L522.9 372.3M541.7 371.5L541.2 369L543.4 370.8M563.6 369L564.9 365.9L566.2 369M586.4 370.8L588.6 369L588.1 371.5M607 372.3L609.1 371.5L608 373.2M626.6 373.4L628.4 373L627.2 374.1M645.9 374L647.4 373.8L646.4 374.7M665.2 374.4L666.5 374.3L665.5 374.9M684.6 374.6L685.6 374.6L684.8 375.1M445.2 359.4L444.5 358.8L445.5 358.9M464.6 359.2L463.9 358.5L465 358.7M484 358.9L483.2 358L484.5 358.3M503.4 358.4L502.7 357.3L504.1 357.8M523.1 357.7L522.6 356.2L524.1 357.1M543.2 356.7L543.2 354.9L544.6 356.4M564.1 355.9L564.9 354L565.7 355.9M585.3 356.4L586.6 354.9L586.6 356.7M605.7 357.1L607.2 356.2L606.7 357.7M625.7 357.8L627.1 357.3L626.4 358.4M645.3 358.3L646.6 358L645.8 358.9M664.8 358.7L665.9 358.5L665.2 359.2M684.3 358.9L685.3 358.8L684.6 359.4M464.9 343.5L464.4 342.8L465.3 343.1M484.5 343.2L483.9 342.4L485 342.8M504.1 342.9L503.6 341.8L504.7 342.5M523.9 342.4L523.6 341.2L524.7 342M543.9 341.9L544.1 340.5L545 341.7M564.3 341.5L564.9 340.2L565.5 341.5M584.8 341.7L585.8 340.5L585.9 341.9M605.1 342L606.2 341.2L606 342.4M625.1 342.5L626.2 341.8L625.7 342.9M644.8 342.8L645.9 342.4L645.3 343.2M664.5 343.1L665.4 342.8L664.9 343.5M484.8 327.7L484.5 326.9L485.3 327.4M504.5 327.4L504.3 326.5L505.1 327.1M524.3 327.1L524.3 326.1L525.1 326.9M544.3 326.8L544.5 325.7L545.2 326.7M564.5 326.6L564.9 325.6L565.3 326.6M584.7 326.7L585.3 325.7L585.5 326.8M604.7 326.9L605.5 326.1L605.5 327.1M624.7 327.1L625.5 326.5L625.3 327.4M644.5 327.4L645.3 326.9L645 327.7M544.6 311.6L544.7 310.8L545.2 311.5M564.6 311.5L564.9 310.7L565.3 311.5M584.6 311.5L585.1 310.8L585.2 311.6M132.1 140.4L132.3 139.5L132.8 140.4M151.4 140.6L151.4 139.7L152.1 140.5M170.8 140.9L170.6 140L171.4 140.6M958.4 140.6L959.2 140L959 140.9M977.8 140.5L978.4 139.7L978.5 140.6M997 140.4L997.5 139.5L997.8 140.4M131.8 124.4L132.2 123.2L132.8 124.3M151 124.7L151 123.6L151.9 124.5M170.4 125.1L170.1 124.1L171.1 124.8M189.9 125.5L189.6 124.6L190.5 125.2M209.6 125.8L209.2 125.1L210.1 125.4M919.7 125.4L920.6 125.1L920.2 125.8M939.3 125.2L940.3 124.6L939.9 125.5M958.7 124.8L959.7 124.1L959.4 125.1M978 124.5L978.8 123.6L978.8 124.7M997 124.3L997.6 123.2L998 124.4M131.5 108.1L131.8 106.5L132.8 108M150.4 108.8L150.2 107.3L151.5 108.4M169.8 109.5L169.3 108.3L170.6 109M189.5 110L188.8 109L190.1 109.5M209.3 110.3L208.6 109.6L209.7 109.9M229.1 110.6L228.5 110L229.5 110.2M900.4 110.2L901.3 110L900.7 110.6M920.1 109.9L921.2 109.6L920.6 110.3M939.8 109.5L941 109L940.4 110M959.2 109L960.5 108.3L960 109.5M978.4 108.4L979.6 107.3L979.4 108.8M997.1 108L998 106.5L998.3 108.1M130.7 91.3L131.1 89L132.6 91.1M149.3 92.8L148.8 91L150.6 92.2M168.9 93.9L168 92.5L169.7 93.2M188.8 94.6L187.9 93.6L189.4 93.9M208.9 95L208 94.2L209.3 94.4M228.8 95.2L228 94.6L229.1 94.7M248.8 95.3L248.1 94.9L249 94.9M880.8 94.9L881.7 94.9L881 95.3M900.7 94.7L901.8 94.6L901 95.2M920.6 94.4L921.9 94.2L921 95M940.4 93.9L941.9 93.6L941 94.6M960.1 93.2L961.8 92.5L960.9 93.9M979.2 92.2L981 91L980.5 92.8M997.3 91.1L998.7 89L999.1 91.3M129 73.3L129.4 69.5L131.9 72.7M147.2 77.2L145.8 75L148.7 76.1M167.6 78.8L166 77.3L168.4 77.7M188.1 79.4L186.7 78.5L188.6 78.6M208.5 79.8L207.3 79.1L208.7 79.1M228.6 79.9L227.6 79.4L228.8 79.4M248.6 80L247.8 79.6L248.8 79.5M881 79.5L882 79.6L881.2 80M901 79.4L902.2 79.4L901.2 79.9M921.1 79.1L922.5 79.1L921.4 79.8M941.2 78.6L943.1 78.5L941.7 79.4M961.4 77.7L963.8 77.3L962.2 78.8M981.2 76.1L984 75L982.6 77.2M997.9 72.7L1000.4 69.5L1000.8 73.3M126.1 60.8L124.3 57.9L128 59.4M143 64L138.9 62L143.7 61.7M166.2 64.5L163.6 63.4L166.5 63M187.6 64.6L185.7 63.9L187.7 63.6M208.2 64.7L206.8 64.2L208.3 63.9M228.5 64.7L227.4 64.3L228.6 64.1M248.6 64.7L247.7 64.4L248.6 64.2M881.2 64.2L882.2 64.4L881.2 64.7M901.2 64.1L902.5 64.3L901.3 64.7M921.5 63.9L923 64.2L921.6 64.7M942.1 63.6L944.1 63.9L942.2 64.6M963.3 63L966.2 63.4L963.6 64.5M986.1 61.7L990.9 62L986.8 64M1001.9 59.4L1005.5 57.9L1003.7 60.8" stroke-width="2.4" stroke-linecap="square" stroke-linejoin="round"/>
<path d="M188.7 748.7h.01M209 748.5h.01M229.1 748.5h.01M249.1 748.4h.01M269 748.4h.01M288.8 748.4h.01M308.6 748.4h.01M328.4 748.4h.01M348.1 748.4h.01M367.9 748.4h.01M387.6 748.4h.01M407.3 748.4h.01M427 748.4h.01M446.7 748.4h.01M466.4 748.4h.01M486.1 748.4h.01M505.8 748.4h.01M525.5 748.4h.01M545.2 748.4h.01M564.9 748.4h.01M584.6 748.4h.01M604.3 748.4h.01M624 748.4h.01M643.7 748.4h.01M663.4 748.4h.01M683.1 748.4h.01M702.8 748.4h.01M722.5 748.4h.01M742.2 748.4h.01M762 748.4h.01M781.7 748.4h.01M801.4 748.4h.01M821.2 748.4h.01M841 748.4h.01M860.8 748.4h.01M880.7 748.4h.01M900.7 748.5h.01M920.8 748.5h.01M941.2 748.7h.01M189.2 733.6h.01M209.3 733.3h.01M229.3 733.1h.01M249.2 733h.01M269 733h.01M288.8 732.9h.01M308.6 732.9h.01M328.4 732.9h.01M348.1 732.9h.01M367.9 732.9h.01M387.6 732.9h.01M407.3 732.9h.01M427 732.9h.01M446.7 732.9h.01M466.4 732.9h.01M486.1 732.9h.01M505.8 732.9h.01M525.5 732.9h.01M545.2 732.9h.01M564.9 732.9h.01M584.6 732.9h.01M604.3 732.9h.01M624 732.9h.01M643.7 732.9h.01M663.4 732.9h.01M683.1 732.9h.01M702.8 732.9h.01M722.5 732.9h.01M742.2 732.9h.01M762 732.9h.01M781.7 732.9h.01M801.4 732.9h.01M821.2 732.9h.01M841 732.9h.01M860.8 733h.01M880.6 733h.01M900.6 733.1h.01M920.5 733.3h.01M940.6 733.6h.01M150.6 719.6h.01M170 718.8h.01M189.8 718.3h.01M209.6 718h.01M229.5 717.8h.01M249.3 717.6h.01M269.1 717.5h.01M288.9 717.5h.01M308.7 717.4h.01M328.4 717.4h.01M348.1 717.4h.01M367.9 717.4h.01M387.6 717.4h.01M407.3 717.4h.01M427 717.4h.01M446.7 717.4h.01M466.4 717.4h.01M486.1 717.4h.01M505.8 717.4h.01M525.5 717.4h.01M545.2 717.4h.01M564.9 717.4h.01M584.6 717.4h.01M604.3 717.4h.01M624 717.4h.01M643.7 717.4h.01M663.4 717.4h.01M683.1 717.4h.01M702.8 717.4h.01M722.5 717.4h.01M742.2 717.4h.01M761.9 717.4h.01M781.7 717.4h.01M801.4 717.4h.01M821.2 717.4h.01M840.9 717.5h.01M860.7 717.5h.01M880.5 717.6h.01M900.3 717.8h.01M920.2 718h.01M940.1 718.3h.01M959.8 718.8h.01M979.3 719.6h.01M132.3 704h.01M151.3 703.6h.01M170.6 703.2h.01M190.2 702.8h.01M209.9 702.5h.01M229.7 702.3h.01M249.5 702.2h.01M269.2 702.1h.01M289 702h.01M308.7 702h.01M328.4 701.9h.01M348.2 701.9h.01M367.9 701.9h.01M387.6 701.9h.01M407.3 701.9h.01M427 701.9h.01M446.7 701.9h.01M466.4 701.9h.01M486.1 701.9h.01M505.8 701.9h.01M525.5 701.9h.01M545.2 701.9h.01M564.9 701.9h.01M584.6 701.9h.01M604.3 701.9h.01M624 701.9h.01M643.7 701.9h.01M663.4 701.9h.01M683.1 701.9h.01M702.8 701.9h.01M722.5 701.9h.01M742.2 701.9h.01M761.9 701.9h.01M781.6 701.9h.01M801.4 701.9h.01M821.1 702h.01M840.8 702h.01M860.6 702.1h.01M880.4 702.2h.01M900.1 702.3h.01M919.9 702.5h.01M939.6 702.8h.01M959.2 703.2h.01M978.5 703.6h.01M997.6 704h.01M132.4 687.9h.01M151.7 687.7h.01M171 687.5h.01M190.6 687.2h.01M210.2 687h.01M229.9 686.8h.01M249.6 686.7h.01M269.3 686.6h.01M289.1 686.5h.01M308.8 686.5h.01M328.5 686.4h.01M348.2 686.4h.01M367.9 686.4h.01M387.6 686.4h.01M407.3 686.4h.01M427 686.4h.01M446.7 686.4h.01M466.4 686.4h.01M486.1 686.4h.01M505.8 686.4h.01M525.5 686.4h.01M545.2 686.4h.01M564.9 686.4h.01M584.6 686.4h.01M604.3 686.4h.01M624 686.4h.01M643.7 686.4h.01M663.4 686.4h.01M683.1 686.4h.01M702.8 686.4h.01M722.5 686.4h.01M742.2 686.4h.01M761.9 686.4h.01M781.6 686.4h.01M801.3 686.4h.01M821 686.5h.01M840.8 686.5h.01M860.5 686.6h.01M880.2 686.7h.01M899.9 686.8h.01M919.6 687h.01M939.2 687.2h.01M958.8 687.5h.01M978.2 687.7h.01M997.4 687.9h.01M132.5 672h.01M151.9 671.9h.01M171.3 671.8h.01M190.8 671.6h.01M210.4 671.4h.01M230.1 671.3h.01M249.7 671.2h.01M269.4 671.1h.01M289.1 671h.01M308.8 671h.01M328.5 670.9h.01M348.2 670.9h.01M367.9 670.9h.01M387.6 670.9h.01M407.3 670.9h.01M427 670.9h.01M446.7 670.9h.01M466.4 670.9h.01M486.1 670.9h.01M505.8 670.9h.01M525.5 670.9h.01M545.2 670.9h.01M564.9 670.9h.01M584.6 670.9h.01M604.3 670.9h.01M624 670.9h.01M643.7 670.9h.01M663.4 670.9h.01M683.1 670.9h.01M702.8 670.9h.01M722.5 670.9h.01M742.2 670.9h.01M761.9 670.9h.01M781.6 670.9h.01M801.3 670.9h.01M821 671h.01M840.7 671h.01M860.4 671.1h.01M880.1 671.2h.01M899.7 671.3h.01M919.4 671.4h.01M939 671.6h.01M958.5 671.8h.01M978 671.9h.01M997.3 672h.01M132.6 656.2h.01M152 656.2h.01M171.5 656.1h.01M191 656h.01M210.6 655.8h.01M230.2 655.7h.01M249.9 655.6h.01M269.5 655.6h.01M289.2 655.5h.01M308.9 655.4h.01M328.6 655.4h.01M348.3 655.4h.01M368 655.4h.01M387.6 655.4h.01M407.3 655.4h.01M427 655.3h.01M446.7 655.3h.01M466.4 655.4h.01M486.1 655.4h.01M505.8 655.4h.01M525.5 655.4h.01M545.2 655.4h.01M564.9 655.4h.01M584.6 655.4h.01M604.3 655.4h.01M624 655.4h.01M643.7 655.4h.01M663.4 655.4h.01M683.1 655.3h.01M702.8 655.3h.01M722.5 655.4h.01M742.2 655.4h.01M761.9 655.4h.01M781.6 655.4h.01M801.2 655.4h.01M820.9 655.4h.01M840.6 655.5h.01M860.3 655.6h.01M880 655.6h.01M899.6 655.7h.01M919.2 655.8h.01M938.8 656h.01M958.3 656.1h.01M977.8 656.2h.01M997.3 656.2h.01M132.6 640.5h.01M152.1 640.5h.01M171.6 640.4h.01M191.1 640.3h.01M210.7 640.2h.01M230.3 640.2h.01M250 640.1h.01M269.6 640h.01M289.3 640h.01M308.9 639.9h.01M328.6 639.9h.01M348.3 639.9h.01M368 639.9h.01M387.7 639.8h.01M407.3 639.8h.01M427 639.8h.01M446.7 639.8h.01M466.4 639.9h.01M486.1 639.9h.01M505.8 639.9h.01M525.5 639.9h.01M545.2 639.9h.01M564.9 639.9h.01M584.6 639.9h.01M604.3 639.9h.01M624 639.9h.01M643.7 639.9h.01M663.4 639.9h.01M683.1 639.8h.01M702.8 639.8h.01M722.5 639.8h.01M742.2 639.8h.01M761.8 639.9h.01M781.5 639.9h.01M801.2 639.9h.01M820.9 639.9h.01M840.5 640h.01M860.2 640h.01M879.9 640.1h.01M899.5 640.2h.01M919.1 640.2h.01M938.7 640.3h.01M958.2 640.4h.01M977.7 640.5h.01M997.2 640.5h.01M132.6 624.8h.01M152.1 624.8h.01M171.7 624.8h.01M191.2 624.7h.01M210.8 624.6h.01M230.4 624.6h.01M250 624.5h.01M269.7 624.5h.01M289.3 624.4h.01M309 624.4h.01M328.6 624.4h.01M348.3 624.3h.01M368 624.3h.01M387.7 624.3h.01M407.3 624.3h.01M427 624.3h.01M446.7 624.3h.01M466.4 624.4h.01M486.1 624.4h.01M505.8 624.4h.01M525.5 624.4h.01M545.2 624.4h.01M564.9 624.4h.01M584.6 624.4h.01M604.3 624.4h.01M624 624.4h.01M643.7 624.4h.01M663.4 624.4h.01M683.1 624.3h.01M702.8 624.3h.01M722.5 624.3h.01M742.2 624.3h.01M761.8 624.3h.01M781.5 624.3h.01M801.2 624.4h.01M820.8 624.4h.01M840.5 624.4h.01M860.1 624.5h.01M879.8 624.5h.01M899.4 624.6h.01M919 624.6h.01M938.6 624.7h.01M958.2 624.8h.01M977.7 624.8h.01M997.2 624.8h.01M132.6 609.2h.01M152.2 609.2h.01M171.7 609.1h.01M191.3 609.1h.01M210.9 609h.01M230.5 609h.01M250.1 608.9h.01M269.7 608.9h.01M289.4 608.9h.01M309 608.8h.01M328.7 608.8h.01M348.3 608.8h.01M368 608.8h.01M387.7 608.8h.01M407.3 608.8h.01M427 608.8h.01M446.7 608.8h.01M466.4 608.9h.01M486.1 608.9h.01M505.8 608.9h.01M525.5 608.9h.01M545.2 608.9h.01M564.9 608.9h.01M584.6 608.9h.01M604.3 608.9h.01M624 608.9h.01M643.7 608.9h.01M663.4 608.9h.01M683.1 608.8h.01M702.8 608.8h.01M722.5 608.8h.01M742.2 608.8h.01M761.8 608.8h.01M781.5 608.8h.01M801.2 608.8h.01M820.8 608.8h.01M840.5 608.9h.01M860.1 608.9h.01M879.7 608.9h.01M899.3 609h.01M918.9 609h.01M938.5 609.1h.01M958.1 609.1h.01M977.7 609.2h.01M997.2 609.2h.01M132.6 593.5h.01M152.2 593.5h.01M171.8 593.5h.01M191.3 593.5h.01M210.9 593.4h.01M230.5 593.4h.01M250.1 593.4h.01M269.8 593.3h.01M289.4 593.3h.01M309 593.3h.01M328.7 593.3h.01M348.3 593.3h.01M368 593.3h.01M387.7 593.3h.01M407.3 593.3h.01M427 593.3h.01M446.7 593.3h.01M466.4 593.4h.01M486.1 593.4h.01M505.8 593.4h.01M525.5 593.4h.01M545.2 593.4h.01M564.9 593.4h.01M584.6 593.4h.01M604.3 593.4h.01M624.1 593.4h.01M643.8 593.4h.01M663.5 593.4h.01M683.1 593.3h.01M702.8 593.3h.01M722.5 593.3h.01M742.2 593.3h.01M761.8 593.3h.01M781.5 593.3h.01M801.1 593.3h.01M820.8 593.3h.01M840.4 593.3h.01M860.1 593.3h.01M879.7 593.4h.01M899.3 593.4h.01M918.9 593.4h.01M938.5 593.5h.01M958.1 593.5h.01M977.6 593.5h.01M997.2 593.5h.01M132.6 577.9h.01M152.2 577.9h.01M171.8 577.9h.01M191.4 577.9h.01M211 577.9h.01M230.6 577.8h.01M250.2 577.8h.01M269.8 577.8h.01M289.4 577.8h.01M309.1 577.8h.01M328.7 577.7h.01M348.3 577.7h.01M368 577.8h.01M387.6 577.8h.01M407.3 577.8h.01M427 577.8h.01M446.6 577.8h.01M466.3 577.9h.01M486 577.9h.01M505.7 577.9h.01M525.5 577.9h.01M545.2 578h.01M564.9 578h.01M584.6 578h.01M604.4 577.9h.01M624.1 577.9h.01M643.8 577.9h.01M663.5 577.9h.01M683.2 577.8h.01M702.8 577.8h.01M722.5 577.8h.01M742.2 577.8h.01M761.8 577.8h.01M781.5 577.7h.01M801.1 577.7h.01M820.8 577.8h.01M840.4 577.8h.01M860 577.8h.01M879.6 577.8h.01M899.3 577.8h.01M918.9 577.9h.01M938.5 577.9h.01M958 577.9h.01M977.6 577.9h.01M997.2 577.9h.01M132.6 562.3h.01M152.2 562.3h.01M171.8 562.3h.01M191.4 562.3h.01M211 562.3h.01M230.6 562.2h.01M250.2 562.2h.01M269.8 562.2h.01M289.4 562.2h.01M309.1 562.2h.01M328.7 562.2h.01M348.3 562.2h.01M368 562.2h.01M387.6 562.2h.01M407.3 562.3h.01M426.9 562.3h.01M446.6 562.3h.01M466.3 562.4h.01M486 562.4h.01M505.7 562.4h.01M525.4 562.5h.01M545.2 562.5h.01M564.9 562.5h.01M584.7 562.5h.01M604.4 562.5h.01M624.1 562.4h.01M643.8 562.4h.01M663.5 562.4h.01M683.2 562.3h.01M702.9 562.3h.01M722.5 562.3h.01M742.2 562.2h.01M761.8 562.2h.01M781.5 562.2h.01M801.1 562.2h.01M820.8 562.2h.01M840.4 562.2h.01M860 562.2h.01M879.6 562.2h.01M899.2 562.2h.01M918.8 562.3h.01M938.4 562.3h.01M958 562.3h.01M977.6 562.3h.01M997.2 562.3h.01M132.6 546.7h.01M152.2 546.7h.01M171.8 546.7h.01M191.4 546.7h.01M211 546.7h.01M230.6 546.7h.01M250.2 546.7h.01M269.8 546.6h.01M289.4 546.6h.01M309.1 546.6h.01M328.7 546.6h.01M348.3 546.7h.01M367.9 546.7h.01M387.6 546.7h.01M407.2 546.7h.01M426.9 546.8h.01M446.6 546.8h.01M466.2 546.9h.01M485.9 546.9h.01M505.7 547h.01M525.4 547h.01M545.1 547.1h.01M564.9 547.1h.01M584.7 547.1h.01M604.4 547h.01M624.2 547h.01M643.9 546.9h.01M663.6 546.9h.01M683.3 546.8h.01M702.9 546.8h.01M722.6 546.7h.01M742.2 546.7h.01M761.9 546.7h.01M781.5 546.7h.01M801.1 546.6h.01M820.8 546.6h.01M840.4 546.6h.01M860 546.6h.01M879.6 546.7h.01M899.2 546.7h.01M918.8 546.7h.01M938.4 546.7h.01M958 546.7h.01M977.6 546.7h.01M997.2 546.7h.01M132.6 531.1h.01M152.2 531.1h.01M171.8 531.1h.01M191.4 531.1h.01M211 531.1h.01M230.6 531.1h.01M250.2 531.1h.01M269.8 531.1h.01M289.4 531.1h.01M309.1 531.1h.01M328.7 531.1h.01M348.3 531.1h.01M367.9 531.1h.01M387.5 531.2h.01M407.2 531.2h.01M426.8 531.3h.01M446.5 531.3h.01M466.2 531.4h.01M485.9 531.5h.01M505.6 531.5h.01M525.3 531.6h.01M545.1 531.6h.01M564.9 531.7h.01M584.7 531.6h.01M604.5 531.6h.01M624.2 531.5h.01M644 531.5h.01M663.7 531.4h.01M683.3 531.3h.01M703 531.3h.01M722.6 531.2h.01M742.3 531.2h.01M761.9 531.1h.01M781.5 531.1h.01M801.1 531.1h.01M820.8 531.1h.01M840.4 531.1h.01M860 531.1h.01M879.6 531.1h.01M899.2 531.1h.01M918.8 531.1h.01M938.4 531.1h.01M958 531.1h.01M977.6 531.1h.01M997.2 531.1h.01M132.6 515.5h.01M152.2 515.5h.01M171.8 515.5h.01M191.4 515.5h.01M211 515.5h.01M230.6 515.5h.01M250.2 515.5h.01M269.8 515.5h.01M289.4 515.5h.01M309 515.5h.01M328.6 515.5h.01M348.3 515.6h.01M367.9 515.6h.01M387.5 515.6h.01M407.1 515.7h.01M426.7 515.7h.01M446.4 515.8h.01M466.1 515.9h.01M485.7 516h.01M505.5 516.1h.01M525.3 516.2h.01M545.1 516.3h.01M564.9 516.3h.01M584.7 516.3h.01M604.6 516.2h.01M624.3 516.1h.01M644.1 516h.01M663.8 515.9h.01M683.4 515.8h.01M703.1 515.7h.01M722.7 515.7h.01M742.3 515.6h.01M761.9 515.6h.01M781.6 515.6h.01M801.2 515.5h.01M820.8 515.5h.01M840.4 515.5h.01M860 515.5h.01M879.6 515.5h.01M899.2 515.5h.01M918.8 515.5h.01M938.4 515.5h.01M958 515.5h.01M977.6 515.5h.01M997.2 515.5h.01M132.6 499.9h.01M152.2 499.9h.01M171.8 499.9h.01M191.4 499.9h.01M211 499.9h.01M230.6 499.9h.01M250.2 499.9h.01M269.8 499.9h.01M289.4 499.9h.01M309 499.9h.01M328.6 500h.01M348.2 500h.01M367.8 500h.01M387.4 500.1h.01M407 500.1h.01M426.6 500.2h.01M446.3 500.3h.01M465.9 500.4h.01M485.6 500.5h.01M505.3 500.7h.01M525.1 500.8h.01M545 500.9h.01M564.9 501h.01M584.8 500.9h.01M604.7 500.8h.01M624.5 500.7h.01M644.2 500.5h.01M663.9 500.4h.01M683.5 500.3h.01M703.2 500.2h.01M722.8 500.1h.01M742.4 500.1h.01M762 500h.01M781.6 500h.01M801.2 500h.01M820.8 499.9h.01M840.4 499.9h.01M860 499.9h.01M879.6 499.9h.01M899.2 499.9h.01M918.8 499.9h.01M938.4 499.9h.01M958 499.9h.01M977.6 499.9h.01M997.2 499.9h.01M132.6 484.4h.01M152.2 484.4h.01M171.8 484.4h.01M191.4 484.4h.01M211 484.4h.01M230.6 484.4h.01M250.2 484.4h.01M269.8 484.4h.01M289.4 484.4h.01M309 484.4h.01M328.6 484.4h.01M348.2 484.4h.01M367.8 484.4h.01M387.4 484.5h.01M406.9 484.6h.01M426.5 484.6h.01M446.1 484.7h.01M465.7 484.9h.01M485.4 485.1h.01M505.1 485.3h.01M524.9 485.5h.01M544.9 485.7h.01M564.9 485.7h.01M584.9 485.7h.01M604.9 485.5h.01M624.7 485.3h.01M644.4 485.1h.01M664.1 484.9h.01M683.7 484.7h.01M703.3 484.6h.01M722.9 484.6h.01M742.5 484.5h.01M762 484.4h.01M781.6 484.4h.01M801.2 484.4h.01M820.8 484.4h.01M840.4 484.4h.01M860 484.4h.01M879.6 484.4h.01M899.2 484.4h.01M918.8 484.4h.01M938.4 484.4h.01M958 484.4h.01M977.6 484.4h.01M997.2 484.4h.01M132.6 468.8h.01M152.2 468.8h.01M171.8 468.8h.01M191.4 468.8h.01M211 468.8h.01M230.6 468.8h.01M250.2 468.8h.01M269.8 468.8h.01M289.4 468.8h.01M309 468.8h.01M328.6 468.8h.01M348.2 468.8h.01M367.7 468.9h.01M387.3 468.9h.01M406.9 469h.01M426.4 469.1h.01M446 469.2h.01M465.5 469.3h.01M485.1 469.5h.01M504.8 469.8h.01M524.6 470.2h.01M544.7 470.5h.01M564.9 470.7h.01M585.2 470.5h.01M605.2 470.2h.01M625 469.8h.01M644.7 469.5h.01M664.3 469.3h.01M683.9 469.2h.01M703.4 469.1h.01M723 469h.01M742.5 468.9h.01M762.1 468.9h.01M781.7 468.8h.01M801.2 468.8h.01M820.8 468.8h.01M840.4 468.8h.01M860 468.8h.01M879.6 468.8h.01M899.2 468.8h.01M918.8 468.8h.01M938.4 468.8h.01M958 468.8h.01M977.6 468.8h.01M997.2 468.8h.01M132.6 453.2h.01M152.2 453.2h.01M171.8 453.2h.01M191.4 453.2h.01M211 453.2h.01M230.6 453.2h.01M250.2 453.2h.01M269.8 453.2h.01M289.4 453.2h.01M309 453.2h.01M328.6 453.2h.01M348.1 453.2h.01M367.7 453.3h.01M387.2 453.3h.01M406.8 453.4h.01M426.3 453.5h.01M445.8 453.6h.01M465.3 453.7h.01M484.8 454h.01M504.3 454.4h.01M524.1 454.9h.01M544.2 455.5h.01M564.9 456h.01M585.6 455.5h.01M605.7 454.9h.01M625.5 454.4h.01M645 454h.01M664.5 453.7h.01M684 453.6h.01M703.5 453.5h.01M723.1 453.4h.01M742.6 453.3h.01M762.1 453.3h.01M781.7 453.2h.01M801.3 453.2h.01M820.8 453.2h.01M840.4 453.2h.01M860 453.2h.01M879.6 453.2h.01M899.2 453.2h.01M918.8 453.2h.01M938.4 453.2h.01M958 453.2h.01M977.6 453.2h.01M997.2 453.2h.01M132.6 437.6h.01M152.2 437.6h.01M171.8 437.6h.01M191.4 437.6h.01M211 437.6h.01M230.6 437.6h.01M250.2 437.6h.01M269.8 437.6h.01M289.4 437.6h.01M309 437.6h.01M328.5 437.6h.01M348.1 437.7h.01M367.6 437.7h.01M387.2 437.7h.01M406.7 437.7h.01M426.2 437.8h.01M445.6 437.9h.01M465 438.1h.01M484.3 438.3h.01M503.7 438.7h.01M626.1 438.7h.01M645.5 438.3h.01M664.8 438.1h.01M684.2 437.9h.01M703.7 437.8h.01M723.1 437.7h.01M742.6 437.7h.01M762.2 437.7h.01M781.7 437.7h.01M801.3 437.6h.01M820.9 437.6h.01M840.4 437.6h.01M860 437.6h.01M879.6 437.6h.01M899.2 437.6h.01M918.8 437.6h.01M938.4 437.6h.01M958 437.6h.01M977.6 437.6h.01M997.2 437.6h.01M132.6 422h.01M152.2 422h.01M171.8 422h.01M191.4 422h.01M211 422h.01M230.6 422h.01M250.2 422h.01M269.8 422h.01M289.4 422h.01M309 422h.01M328.5 422h.01M348.1 422.1h.01M367.6 422.1h.01M387.1 422.1h.01M406.6 422.1h.01M426.1 422.1h.01M445.5 422.2h.01M464.8 422.3h.01M483.9 422.5h.01M645.9 422.5h.01M665 422.3h.01M684.3 422.2h.01M703.7 422.1h.01M723.2 422.1h.01M742.7 422.1h.01M762.2 422.1h.01M781.7 422.1h.01M801.3 422h.01M820.9 422h.01M840.4 422h.01M860 422h.01M879.6 422h.01M899.2 422h.01M918.8 422h.01M938.4 422h.01M958 422h.01M977.6 422h.01M997.2 422h.01M132.6 406.5h.01M152.2 406.5h.01M171.8 406.5h.01M191.4 406.5h.01M211 406.4h.01M230.6 406.5h.01M250.2 406.4h.01M269.8 406.5h.01M289.4 406.5h.01M308.9 406.5h.01M328.5 406.5h.01M348.1 406.5h.01M367.6 406.5h.01M387.1 406.5h.01M406.6 406.5h.01M426 406.5h.01M445.4 406.5h.01M464.7 406.5h.01M483.7 406.4h.01M564.9 406.4h.01M646.1 406.4h.01M665.2 406.4h.01M684.4 406.4h.01M703.8 406.4h.01M723.2 406.4h.01M742.7 406.4h.01M762.2 406.4h.01M781.7 406.4h.01M801.3 406.4h.01M820.9 406.4h.01M840.4 406.4h.01M860 406.4h.01M879.6 406.4h.01M899.2 406.4h.01M918.8 406.4h.01M938.4 406.4h.01M958 406.4h.01M977.6 406.4h.01M997.2 406.4h.01M132.6 390.9h.01M152.2 390.9h.01M171.8 390.9h.01M191.4 390.9h.01M211 390.9h.01M230.6 390.9h.01M250.2 390.9h.01M269.8 390.9h.01M289.4 390.9h.01M309 390.9h.01M328.5 390.9h.01M348.1 390.8h.01M367.6 390.8h.01M387.1 390.8h.01M406.6 390.8h.01M426.1 390.8h.01M445.5 390.7h.01M464.8 390.6h.01M483.9 390.4h.01M645.9 390.4h.01M665 390.6h.01M684.3 390.7h.01M703.7 390.8h.01M723.2 390.8h.01M742.7 390.8h.01M762.2 390.8h.01M781.7 390.8h.01M801.3 390.9h.01M820.9 390.9h.01M840.4 390.9h.01M860 390.9h.01M879.6 390.9h.01M899.2 390.9h.01M918.8 390.9h.01M938.4 390.9h.01M958 390.9h.01M977.6 390.9h.01M997.2 390.9h.01M132.6 375.3h.01M152.2 375.3h.01M171.8 375.3h.01M191.4 375.3h.01M211 375.3h.01M230.6 375.3h.01M250.2 375.3h.01M269.8 375.3h.01M289.4 375.3h.01M309 375.3h.01M328.5 375.3h.01M348.1 375.2h.01M367.6 375.2h.01M387.2 375.2h.01M406.7 375.2h.01M426.2 375.1h.01M445.6 375h.01M465 374.8h.01M484.3 374.6h.01M503.7 374.2h.01M626.1 374.2h.01M645.5 374.6h.01M664.8 374.8h.01M684.2 375h.01M703.7 375.1h.01M723.1 375.2h.01M742.6 375.2h.01M762.2 375.2h.01M781.7 375.2h.01M801.3 375.3h.01M820.9 375.3h.01M840.4 375.3h.01M860 375.3h.01M879.6 375.3h.01M899.2 375.3h.01M918.8 375.3h.01M938.4 375.3h.01M958 375.3h.01M977.6 375.3h.01M997.2 375.3h.01M132.6 359.7h.01M152.2 359.7h.01M171.8 359.7h.01M191.4 359.7h.01M211 359.7h.01M230.6 359.7h.01M250.2 359.7h.01M269.8 359.7h.01M289.4 359.7h.01M309 359.7h.01M328.6 359.7h.01M348.1 359.7h.01M367.7 359.6h.01M387.2 359.6h.01M406.8 359.5h.01M426.3 359.4h.01M445.8 359.3h.01M465.3 359.2h.01M484.8 358.9h.01M504.3 358.5h.01M524.1 358h.01M544.2 357.4h.01M564.9 356.9h.01M585.6 357.4h.01M605.7 358h.01M625.5 358.5h.01M645 358.9h.01M664.5 359.2h.01M684 359.3h.01M703.5 359.4h.01M723.1 359.5h.01M742.6 359.6h.01M762.1 359.6h.01M781.7 359.7h.01M801.3 359.7h.01M820.8 359.7h.01M840.4 359.7h.01M860 359.7h.01M879.6 359.7h.01M899.2 359.7h.01M918.8 359.7h.01M938.4 359.7h.01M958 359.7h.01M977.6 359.7h.01M997.2 359.7h.01M132.6 344.1h.01M152.2 344.1h.01M171.8 344.1h.01M191.4 344.1h.01M211 344.1h.01M230.6 344.1h.01M250.2 344.1h.01M269.8 344.1h.01M289.4 344.1h.01M309 344.1h.01M328.6 344.1h.01M348.2 344.1h.01M367.7 344h.01M387.3 344h.01M406.9 343.9h.01M426.4 343.8h.01M446 343.7h.01M465.5 343.6h.01M485.1 343.4h.01M504.8 343.1h.01M524.6 342.7h.01M544.7 342.4h.01M564.9 342.2h.01M585.2 342.4h.01M605.2 342.7h.01M625 343.1h.01M644.7 343.4h.01M664.3 343.6h.01M683.9 343.7h.01M703.4 343.8h.01M723 343.9h.01M742.5 344h.01M762.1 344h.01M781.7 344.1h.01M801.2 344.1h.01M820.8 344.1h.01M840.4 344.1h.01M860 344.1h.01M879.6 344.1h.01M899.2 344.1h.01M918.8 344.1h.01M938.4 344.1h.01M958 344.1h.01M977.6 344.1h.01M997.2 344.1h.01M132.6 328.5h.01M152.2 328.5h.01M171.8 328.5h.01M191.4 328.5h.01M211 328.5h.01M230.6 328.5h.01M250.2 328.5h.01M269.8 328.5h.01M289.4 328.5h.01M309 328.5h.01M328.6 328.5h.01M348.2 328.5h.01M367.8 328.5h.01M387.4 328.4h.01M406.9 328.3h.01M426.5 328.3h.01M446.1 328.2h.01M465.7 328h.01M485.4 327.8h.01M505.1 327.6h.01M524.9 327.4h.01M544.9 327.2h.01M564.9 327.2h.01M584.9 327.2h.01M604.9 327.4h.01M624.7 327.6h.01M644.4 327.8h.01M664.1 328h.01M683.7 328.2h.01M703.3 328.3h.01M722.9 328.3h.01M742.5 328.4h.01M762 328.5h.01M781.6 328.5h.01M801.2 328.5h.01M820.8 328.5h.01M840.4 328.5h.01M860 328.5h.01M879.6 328.5h.01M899.2 328.5h.01M918.8 328.5h.01M938.4 328.5h.01M958 328.5h.01M977.6 328.5h.01M997.2 328.5h.01M132.6 313h.01M152.2 313h.01M171.8 313h.01M191.4 313h.01M211 313h.01M230.6 313h.01M250.2 313h.01M269.8 313h.01M289.4 313h.01M309 313h.01M328.6 312.9h.01M348.2 312.9h.01M367.8 312.9h.01M387.4 312.8h.01M407 312.8h.01M426.6 312.7h.01M446.3 312.6h.01M465.9 312.5h.01M485.6 312.4h.01M505.3 312.2h.01M525.1 312.1h.01M545 312h.01M564.9 311.9h.01M584.8 312h.01M604.7 312.1h.01M624.5 312.2h.01M644.2 312.4h.01M663.9 312.5h.01M683.5 312.6h.01M703.2 312.7h.01M722.8 312.8h.01M742.4 312.8h.01M762 312.9h.01M781.6 312.9h.01M801.2 312.9h.01M820.8 313h.01M840.4 313h.01M860 313h.01M879.6 313h.01M899.2 313h.01M918.8 313h.01M938.4 313h.01M958 313h.01M977.6 313h.01M997.2 313h.01M132.6 297.4h.01M152.2 297.4h.01M171.8 297.4h.01M191.4 297.4h.01M211 297.4h.01M230.6 297.4h.01M250.2 297.4h.01M269.8 297.4h.01M289.4 297.4h.01M309 297.4h.01M328.6 297.4h.01M348.3 297.3h.01M367.9 297.3h.01M387.5 297.3h.01M407.1 297.2h.01M426.7 297.2h.01M446.4 297.1h.01M466.1 297h.01M485.7 296.9h.01M505.5 296.8h.01M525.3 296.7h.01M545.1 296.6h.01M564.9 296.6h.01M584.7 296.6h.01M604.6 296.7h.01M624.3 296.8h.01M644.1 296.9h.01M663.8 297h.01M683.4 297.1h.01M703.1 297.2h.01M722.7 297.2h.01M742.3 297.3h.01M761.9 297.3h.01M781.6 297.3h.01M801.2 297.4h.01M820.8 297.4h.01M840.4 297.4h.01M860 297.4h.01M879.6 297.4h.01M899.2 297.4h.01M918.8 297.4h.01M938.4 297.4h.01M958 297.4h.01M977.6 297.4h.01M997.2 297.4h.01M132.6 281.8h.01M152.2 281.8h.01M171.8 281.8h.01M191.4 281.8h.01M211 281.8h.01M230.6 281.8h.01M250.2 281.8h.01M269.8 281.8h.01M289.4 281.8h.01M309.1 281.8h.01M328.7 281.8h.01M348.3 281.8h.01M367.9 281.8h.01M387.5 281.7h.01M407.2 281.7h.01M426.8 281.6h.01M446.5 281.6h.01M466.2 281.5h.01M485.9 281.4h.01M505.6 281.4h.01M525.3 281.3h.01M545.1 281.3h.01M564.9 281.2h.01M584.7 281.3h.01M604.5 281.3h.01M624.2 281.4h.01M644 281.4h.01M663.7 281.5h.01M683.3 281.6h.01M703 281.6h.01M722.6 281.7h.01M742.3 281.7h.01M761.9 281.8h.01M781.5 281.8h.01M801.1 281.8h.01M820.8 281.8h.01M840.4 281.8h.01M860 281.8h.01M879.6 281.8h.01M899.2 281.8h.01M918.8 281.8h.01M938.4 281.8h.01M958 281.8h.01M977.6 281.8h.01M997.2 281.8h.01M132.6 266.2h.01M152.2 266.2h.01M171.8 266.2h.01M191.4 266.2h.01M211 266.2h.01M230.6 266.2h.01M250.2 266.2h.01M269.8 266.3h.01M289.4 266.3h.01M309.1 266.3h.01M328.7 266.3h.01M348.3 266.2h.01M367.9 266.2h.01M387.6 266.2h.01M407.2 266.2h.01M426.9 266.1h.01M446.6 266.1h.01M466.2 266h.01M485.9 266h.01M505.7 265.9h.01M525.4 265.9h.01M545.1 265.8h.01M564.9 265.8h.01M584.7 265.8h.01M604.4 265.9h.01M624.2 265.9h.01M643.9 266h.01M663.6 266h.01M683.3 266.1h.01M702.9 266.1h.01M722.6 266.2h.01M742.2 266.2h.01M761.9 266.2h.01M781.5 266.2h.01M801.1 266.3h.01M820.8 266.3h.01M840.4 266.3h.01M860 266.3h.01M879.6 266.2h.01M899.2 266.2h.01M918.8 266.2h.01M938.4 266.2h.01M958 266.2h.01M977.6 266.2h.01M997.2 266.2h.01M132.6 250.6h.01M152.2 250.6h.01M171.8 250.6h.01M191.4 250.6h.01M211 250.6h.01M230.6 250.7h.01M250.2 250.7h.01M269.8 250.7h.01M289.4 250.7h.01M309.1 250.7h.01M328.7 250.7h.01M348.3 250.7h.01M368 250.7h.01M387.6 250.7h.01M407.3 250.6h.01M426.9 250.6h.01M446.6 250.6h.01M466.3 250.5h.01M486 250.5h.01M505.7 250.5h.01M525.4 250.4h.01M545.2 250.4h.01M564.9 250.4h.01M584.7 250.4h.01M604.4 250.4h.01M624.1 250.5h.01M643.8 250.5h.01M663.5 250.5h.01M683.2 250.6h.01M702.9 250.6h.01M722.5 250.6h.01M742.2 250.7h.01M761.8 250.7h.01M781.5 250.7h.01M801.1 250.7h.01M820.8 250.7h.01M840.4 250.7h.01M860 250.7h.01M879.6 250.7h.01M899.2 250.7h.01M918.8 250.6h.01M938.4 250.6h.01M958 250.6h.01M977.6 250.6h.01M997.2 250.6h.01M132.6 235h.01M152.2 235h.01M171.8 235h.01M191.4 235h.01M211 235h.01M230.6 235.1h.01M250.2 235.1h.01M269.8 235.1h.01M289.4 235.1h.01M309.1 235.1h.01M328.7 235.2h.01M348.3 235.2h.01M368 235.1h.01M387.6 235.1h.01M407.3 235.1h.01M427 235.1h.01M446.6 235.1h.01M466.3 235h.01M486 235h.01M505.7 235h.01M525.5 235h.01M545.2 234.9h.01M564.9 234.9h.01M584.6 234.9h.01M604.4 235h.01M624.1 235h.01M643.8 235h.01M663.5 235h.01M683.2 235.1h.01M702.8 235.1h.01M722.5 235.1h.01M742.2 235.1h.01M761.8 235.1h.01M781.5 235.2h.01M801.1 235.2h.01M820.8 235.1h.01M840.4 235.1h.01M860 235.1h.01M879.6 235.1h.01M899.3 235.1h.01M918.9 235h.01M938.5 235h.01M958 235h.01M977.6 235h.01M997.2 235h.01M132.6 219.4h.01M152.2 219.4h.01M171.8 219.4h.01M191.3 219.4h.01M210.9 219.5h.01M230.5 219.5h.01M250.1 219.5h.01M269.8 219.6h.01M289.4 219.6h.01M309 219.6h.01M328.7 219.6h.01M348.3 219.6h.01M368 219.6h.01M387.7 219.6h.01M407.3 219.6h.01M427 219.6h.01M446.7 219.6h.01M466.4 219.5h.01M486.1 219.5h.01M505.8 219.5h.01M525.5 219.5h.01M545.2 219.5h.01M564.9 219.5h.01M584.6 219.5h.01M604.3 219.5h.01M624.1 219.5h.01M643.8 219.5h.01M663.5 219.5h.01M683.1 219.6h.01M702.8 219.6h.01M722.5 219.6h.01M742.2 219.6h.01M761.8 219.6h.01M781.5 219.6h.01M801.1 219.6h.01M820.8 219.6h.01M840.4 219.6h.01M860.1 219.6h.01M879.7 219.5h.01M899.3 219.5h.01M918.9 219.5h.01M938.5 219.4h.01M958.1 219.4h.01M977.6 219.4h.01M997.2 219.4h.01M132.6 203.7h.01M152.2 203.7h.01M171.7 203.8h.01M191.3 203.8h.01M210.9 203.9h.01M230.5 203.9h.01M250.1 204h.01M269.7 204h.01M289.4 204h.01M309 204.1h.01M328.7 204.1h.01M348.3 204.1h.01M368 204.1h.01M387.7 204.1h.01M407.3 204.1h.01M427 204.1h.01M446.7 204.1h.01M466.4 204h.01M486.1 204h.01M505.8 204h.01M525.5 204h.01M545.2 204h.01M564.9 204h.01M584.6 204h.01M604.3 204h.01M624 204h.01M643.7 204h.01M663.4 204h.01M683.1 204.1h.01M702.8 204.1h.01M722.5 204.1h.01M742.2 204.1h.01M761.8 204.1h.01M781.5 204.1h.01M801.2 204.1h.01M820.8 204.1h.01M840.5 204h.01M860.1 204h.01M879.7 204h.01M899.3 203.9h.01M918.9 203.9h.01M938.5 203.8h.01M958.1 203.8h.01M977.7 203.7h.01M997.2 203.7h.01M132.6 188.1h.01M152.1 188.1h.01M171.7 188.1h.01M191.2 188.2h.01M210.8 188.3h.01M230.4 188.3h.01M250 188.4h.01M269.7 188.4h.01M289.3 188.5h.01M309 188.5h.01M328.6 188.5h.01M348.3 188.6h.01M368 188.6h.01M387.7 188.6h.01M407.3 188.6h.01M427 188.6h.01M446.7 188.6h.01M466.4 188.5h.01M486.1 188.5h.01M505.8 188.5h.01M525.5 188.5h.01M545.2 188.5h.01M564.9 188.5h.01M584.6 188.5h.01M604.3 188.5h.01M624 188.5h.01M643.7 188.5h.01M663.4 188.5h.01M683.1 188.6h.01M702.8 188.6h.01M722.5 188.6h.01M742.2 188.6h.01M761.8 188.6h.01M781.5 188.6h.01M801.2 188.5h.01M820.8 188.5h.01M840.5 188.5h.01M860.1 188.4h.01M879.8 188.4h.01M899.4 188.3h.01M919 188.3h.01M938.6 188.2h.01M958.2 188.1h.01M977.7 188.1h.01M997.2 188.1h.01M132.6 172.4h.01M152.1 172.4h.01M171.6 172.5h.01M191.1 172.6h.01M210.7 172.7h.01M230.3 172.7h.01M250 172.8h.01M269.6 172.9h.01M289.3 172.9h.01M308.9 173h.01M328.6 173h.01M348.3 173h.01M368 173h.01M387.7 173.1h.01M407.3 173.1h.01M427 173.1h.01M446.7 173.1h.01M466.4 173h.01M486.1 173h.01M505.8 173h.01M525.5 173h.01M545.2 173h.01M564.9 173h.01M584.6 173h.01M604.3 173h.01M624 173h.01M643.7 173h.01M663.4 173h.01M683.1 173.1h.01M702.8 173.1h.01M722.5 173.1h.01M742.2 173.1h.01M761.8 173h.01M781.5 173h.01M801.2 173h.01M820.9 173h.01M840.5 172.9h.01M860.2 172.9h.01M879.9 172.8h.01M899.5 172.7h.01M919.1 172.7h.01M938.7 172.6h.01M958.2 172.5h.01M977.7 172.4h.01M997.2 172.4h.01M132.6 156.7h.01M152 156.7h.01M171.5 156.8h.01M191 156.9h.01M210.6 157.1h.01M230.2 157.2h.01M249.9 157.3h.01M269.5 157.3h.01M289.2 157.4h.01M308.9 157.5h.01M328.6 157.5h.01M348.3 157.5h.01M368 157.5h.01M387.6 157.5h.01M407.3 157.5h.01M427 157.6h.01M446.7 157.6h.01M466.4 157.5h.01M486.1 157.5h.01M505.8 157.5h.01M525.5 157.5h.01M545.2 157.5h.01M564.9 157.5h.01M584.6 157.5h.01M604.3 157.5h.01M624 157.5h.01M643.7 157.5h.01M663.4 157.5h.01M683.1 157.6h.01M702.8 157.6h.01M722.5 157.5h.01M742.2 157.5h.01M761.9 157.5h.01M781.6 157.5h.01M801.2 157.5h.01M820.9 157.5h.01M840.6 157.4h.01M860.3 157.3h.01M880 157.3h.01M899.6 157.2h.01M919.2 157.1h.01M938.8 156.9h.01M958.3 156.8h.01M977.8 156.7h.01M997.3 156.7h.01M132.5 140.9h.01M151.9 141h.01M171.3 141.1h.01M190.8 141.3h.01M210.4 141.5h.01M230.1 141.6h.01M249.7 141.7h.01M269.4 141.8h.01M289.1 141.9h.01M308.8 141.9h.01M328.5 142h.01M348.2 142h.01M367.9 142h.01M387.6 142h.01M407.3 142h.01M427 142h.01M446.7 142h.01M466.4 142h.01M486.1 142h.01M505.8 142h.01M525.5 142h.01M545.2 142h.01M564.9 142h.01M584.6 142h.01M604.3 142h.01M624 142h.01M643.7 142h.01M663.4 142h.01M683.1 142h.01M702.8 142h.01M722.5 142h.01M742.2 142h.01M761.9 142h.01M781.6 142h.01M801.3 142h.01M821 141.9h.01M840.7 141.9h.01M860.4 141.8h.01M880.1 141.7h.01M899.7 141.6h.01M919.4 141.5h.01M939 141.3h.01M958.5 141.1h.01M978 141h.01M997.3 140.9h.01M132.4 125h.01M151.7 125.2h.01M171 125.4h.01M190.6 125.7h.01M210.2 125.9h.01M229.9 126.1h.01M249.6 126.2h.01M269.3 126.3h.01M289.1 126.4h.01M308.8 126.4h.01M328.5 126.5h.01M348.2 126.5h.01M367.9 126.5h.01M387.6 126.5h.01M407.3 126.5h.01M427 126.5h.01M446.7 126.5h.01M466.4 126.5h.01M486.1 126.5h.01M505.8 126.5h.01M525.5 126.5h.01M545.2 126.5h.01M564.9 126.5h.01M584.6 126.5h.01M604.3 126.5h.01M624 126.5h.01M643.7 126.5h.01M663.4 126.5h.01M683.1 126.5h.01M702.8 126.5h.01M722.5 126.5h.01M742.2 126.5h.01M761.9 126.5h.01M781.6 126.5h.01M801.3 126.5h.01M821 126.4h.01M840.8 126.4h.01M860.5 126.3h.01M880.2 126.2h.01M899.9 126.1h.01M919.6 125.9h.01M939.2 125.7h.01M958.8 125.4h.01M978.2 125.2h.01M997.4 125h.01M132.3 108.9h.01M151.3 109.3h.01M170.6 109.7h.01M190.2 110.1h.01M209.9 110.4h.01M229.7 110.6h.01M249.5 110.7h.01M269.2 110.8h.01M289 110.9h.01M308.7 110.9h.01M328.4 111h.01M348.2 111h.01M367.9 111h.01M387.6 111h.01M407.3 111h.01M427 111h.01M446.7 111h.01M466.4 111h.01M486.1 111h.01M505.8 111h.01M525.5 111h.01M545.2 111h.01M564.9 111h.01M584.6 111h.01M604.3 111h.01M624 111h.01M643.7 111h.01M663.4 111h.01M683.1 111h.01M702.8 111h.01M722.5 111h.01M742.2 111h.01M761.9 111h.01M781.6 111h.01M801.4 111h.01M821.1 110.9h.01M840.8 110.9h.01M860.6 110.8h.01M880.4 110.7h.01M900.1 110.6h.01M919.9 110.4h.01M939.6 110.1h.01M959.2 109.7h.01M978.5 109.3h.01M997.6 108.9h.01M150.6 93.3h.01M170 94.1h.01M189.8 94.6h.01M209.6 94.9h.01M229.5 95.1h.01M249.3 95.3h.01M269.1 95.4h.01M288.9 95.4h.01M308.7 95.5h.01M328.4 95.5h.01M348.1 95.5h.01M367.9 95.5h.01M387.6 95.5h.01M407.3 95.5h.01M427 95.5h.01M446.7 95.5h.01M466.4 95.5h.01M486.1 95.5h.01M505.8 95.5h.01M525.5 95.5h.01M545.2 95.5h.01M564.9 95.5h.01M584.6 95.5h.01M604.3 95.5h.01M624 95.5h.01M643.7 95.5h.01M663.4 95.5h.01M683.1 95.5h.01M702.8 95.5h.01M722.5 95.5h.01M742.2 95.5h.01M761.9 95.5h.01M781.7 95.5h.01M801.4 95.5h.01M821.2 95.5h.01M840.9 95.4h.01M860.7 95.4h.01M880.5 95.3h.01M900.3 95.1h.01M920.2 94.9h.01M940.1 94.6h.01M959.8 94.1h.01M979.3 93.3h.01M189.2 79.3h.01M209.3 79.6h.01M229.3 79.8h.01M249.2 79.9h.01M269 79.9h.01M288.8 80h.01M308.6 80h.01M328.4 80h.01M348.1 80h.01M367.9 80h.01M387.6 80h.01M407.3 80h.01M427 80h.01M446.7 80h.01M466.4 80h.01M486.1 80h.01M505.8 80h.01M525.5 80h.01M545.2 80h.01M564.9 80h.01M584.6 80h.01M604.3 80h.01M624 80h.01M643.7 80h.01M663.4 80h.01M683.1 80h.01M702.8 80h.01M722.5 80h.01M742.2 80h.01M762 80h.01M781.7 80h.01M801.4 80h.01M821.2 80h.01M841 80h.01M860.8 79.9h.01M880.6 79.9h.01M900.6 79.8h.01M920.5 79.6h.01M940.6 79.3h.01M188.7 64.2h.01M209 64.4h.01M229.1 64.4h.01M249.1 64.5h.01M269 64.5h.01M288.8 64.5h.01M308.6 64.5h.01M328.4 64.5h.01M348.1 64.5h.01M367.9 64.5h.01M387.6 64.5h.01M407.3 64.5h.01M427 64.5h.01M446.7 64.5h.01M466.4 64.5h.01M486.1 64.5h.01M505.8 64.5h.01M525.5 64.5h.01M545.2 64.5h.01M564.9 64.5h.01M584.6 64.5h.01M604.3 64.5h.01M624 64.5h.01M643.7 64.5h.01M663.4 64.5h.01M683.1 64.5h.01M702.8 64.5h.01M722.5 64.5h.01M742.2 64.5h.01M762 64.5h.01M781.7 64.5h.01M801.4 64.5h.01M821.2 64.5h.01M841 64.5h.01M860.8 64.5h.01M880.7 64.5h.01M900.7 64.4h.01M920.8 64.4h.01M941.2 64.2h.01" stroke-width="2.6" stroke-linecap="square"/>
</g>
<g shape-rendering="crispEdges">
<path d="M92.0 791.0V780.0M92.0 22.0V33.0M225.0 791.0V780.0M225.0 22.0V33.0M358.0 791.0V780.0M358.0 22.0V33.0M492.0 791.0V780.0M492.0 22.0V33.0M625.0 791.0V780.0M625.0 22.0V33.0M758.0 791.0V780.0M758.0 22.0V33.0" fill="none" stroke="#000" stroke-width="2"/>
<path d="M59.2 755.5H67.0M792.0 755.5H784.2M59.2 685.5H67.0M792.0 685.5H784.2M59.2 615.5H67.0M792.0 615.5H784.2M59.2 546.5H67.0M792.0 546.5H784.2M59.2 476.5H67.0M792.0 476.5H784.2M59.2 406.5H67.0M792.0 406.5H784.2M59.2 336.5H67.0M792.0 336.5H784.2M59.2 266.5H67.0M792.0 266.5H784.2M59.2 197.5H67.0M792.0 197.5H784.2M59.2 127.5H67.0M792.0 127.5H784.2M59.2 57.5H67.0M792.0 57.5H784.2" fill="none" stroke="#000" stroke-width="3"/>
<path d="M58 21H793V792H58ZM60 23V790H791V23Z" fill="#000" fill-rule="evenodd"/>
</g>
<g font-family="'Liberation Sans', sans-serif" font-size="31.8" fill="#000">
<text transform="translate(91.7 826.8) scale(0.717 1)" text-anchor="middle">0</text>
<text transform="translate(225.0 826.8) scale(0.717 1)" text-anchor="middle">0.2</text>
<text transform="translate(358.3 826.8) scale(0.717 1)" text-anchor="middle">0.4</text>
<text transform="translate(491.5 826.8) scale(0.717 1)" text-anchor="middle">0.6</text>
<text transform="translate(624.8 826.8) scale(0.717 1)" text-anchor="middle">0.8</text>
<text transform="translate(758.1 826.8) scale(0.717 1)" text-anchor="middle">1</text>
<text transform="translate(53.0 765.9) scale(0.717 1)" text-anchor="end">0</text>
<text transform="translate(53.0 696.1) scale(0.717 1)" text-anchor="end">0.1</text>
<text transform="translate(53.0 626.3) scale(0.717 1)" text-anchor="end">0.2</text>
<text transform="translate(53.0 556.5) scale(0.717 1)" text-anchor="end">0.3</text>
<text transform="translate(53.0 486.7) scale(0.717 1)" text-anchor="end">0.4</text>
<text transform="translate(53.0 416.9) scale(0.717 1)" text-anchor="end">0.5</text>
<text transform="translate(53.0 347.2) scale(0.717 1)" text-anchor="end">0.6</text>
<text transform="translate(53.0 277.4) scale(0.717 1)" text-anchor="end">0.7</text>
<text transform="translate(53.0 207.6) scale(0.717 1)" text-anchor="end">0.8</text>
<text transform="translate(53.0 137.8) scale(0.717 1)" text-anchor="end">0.9</text>
<text transform="translate(53.0 68.0) scale(0.717 1)" text-anchor="end">1</text>
</g>
<path d="M1826.0 22.0H1055.0V790.9H1826.0" fill="none" stroke="#000" stroke-width="2.4"/>
<g shape-rendering="crispEdges">
<path d="M1054 773H1072V791H1054Z" fill="#00008f"/>
<path d="M1072 773H1090V791H1072ZM1808 773H1826V791H1808ZM1054 756H1072V773H1054ZM1054 22H1072V39H1054Z" fill="#0000ff"/>
<path d="M1072 756H1090V773H1072ZM1808 756H1826V773H1808ZM1072 22H1090V39H1072ZM1808 22H1826V39H1808Z" fill="#0020ff"/>
<path d="M1090 773H1107V791H1090ZM1790 773H1808V791H1790ZM1054 738H1072V756H1054ZM1054 39H1072V57H1054Z" fill="#0040ff"/>
<path d="M1090 756H1107V773H1090ZM1790 756H1808V773H1790ZM1072 738H1090V756H1072ZM1808 738H1826V756H1808ZM1072 39H1090V57H1072ZM1808 39H1826V57H1808ZM1090 22H1107V39H1090ZM1790 22H1808V39H1790Z" fill="#0050ff"/>
<path d="M1107 773H1125V791H1107ZM1773 773H1790V791H1773ZM1107 756H1125V773H1107ZM1773 756H1790V773H1773ZM1090 738H1107V756H1090ZM1790 738H1808V756H1790ZM1054 721H1090V738H1054ZM1808 721H1826V738H1808ZM1054 57H1090V74H1054ZM1808 57H1826V74H1808ZM1090 39H1107V57H1090ZM1790 39H1808V57H1790ZM1107 22H1125V39H1107ZM1773 22H1790V39H1773Z" fill="#0070ff"/>
<path d="M1107 738H1125V756H1107ZM1773 738H1790V756H1773ZM1090 721H1107V738H1090ZM1790 721H1808V738H1790ZM1090 57H1107V74H1090ZM1790 57H1808V74H1790ZM1107 39H1125V57H1107ZM1773 39H1790V57H1773Z" fill="#0080ff"/>
<path d="M1125 773H1142V791H1125ZM1755 773H1773V791H1755ZM1125 756H1142V773H1125ZM1755 756H1773V773H1755ZM1054 704H1090V721H1054ZM1808 704H1826V721H1808ZM1054 74H1090V92H1054ZM1808 74H1826V92H1808ZM1125 22H1142V39H1125ZM1755 22H1773V39H1755Z" fill="#008fff"/>
<path d="M1142 773H1160V791H1142ZM1738 773H1755V791H1738ZM1125 738H1142V756H1125ZM1755 738H1773V756H1755ZM1107 721H1125V738H1107ZM1773 721H1790V738H1773ZM1090 704H1107V721H1090ZM1790 704H1808V721H1790ZM1054 686H1072V704H1054ZM1054 92H1072V109H1054ZM1090 74H1107V92H1090ZM1790 74H1808V92H1790ZM1107 57H1125V74H1107ZM1773 57H1790V74H1773ZM1125 39H1142V57H1125ZM1755 39H1773V57H1755Z" fill="#009fff"/>
<path d="M1142 756H1160V773H1142ZM1738 756H1755V773H1738ZM1142 738H1160V756H1142ZM1738 738H1755V756H1738ZM1125 721H1142V738H1125ZM1755 721H1773V738H1755ZM1107 704H1125V721H1107ZM1773 704H1790V721H1773ZM1072 686H1107V704H1072ZM1790 686H1826V704H1790ZM1072 92H1107V109H1072ZM1790 92H1826V109H1790ZM1107 74H1125V92H1107ZM1773 74H1790V92H1773ZM1125 57H1142V74H1125ZM1755 57H1773V74H1755ZM1142 39H1160V57H1142ZM1738 39H1755V57H1738ZM1142 22H1160V39H1142ZM1738 22H1755V39H1738Z" fill="#00afff"/>
<path d="M1160 773H1177V791H1160ZM1720 773H1738V791H1720ZM1160 756H1177V773H1160ZM1720 756H1738V773H1720ZM1160 738H1177V756H1160ZM1720 738H1738V756H1720ZM1142 721H1160V738H1142ZM1738 721H1755V738H1738ZM1125 704H1160V721H1125ZM1738 704H1773V721H1738ZM1107 686H1142V704H1107ZM1755 686H1790V704H1755ZM1054 669H1107V686H1054ZM1790 669H1826V686H1790ZM1054 109H1107V127H1054ZM1790 109H1826V127H1790ZM1107 92H1142V109H1107ZM1755 92H1790V109H1755ZM1125 74H1160V92H1125ZM1738 74H1773V92H1738ZM1142 57H1160V74H1142ZM1738 57H1755V74H1738ZM1160 39H1177V57H1160ZM1720 39H1738V57H1720ZM1160 22H1177V39H1160ZM1720 22H1738V39H1720Z" fill="#00bfff"/>
<path d="M1177 773H1195V791H1177ZM1703 773H1720V791H1703ZM1177 756H1195V773H1177ZM1703 756H1720V773H1703ZM1177 738H1195V756H1177ZM1703 738H1720V756H1703ZM1160 721H1177V738H1160ZM1720 721H1738V738H1720ZM1160 704H1177V721H1160ZM1720 704H1738V721H1720ZM1142 686H1160V704H1142ZM1738 686H1755V704H1738ZM1107 669H1142V686H1107ZM1755 669H1790V686H1755ZM1054 651H1107V669H1054ZM1790 651H1826V669H1790ZM1054 127H1107V144H1054ZM1790 127H1826V144H1790ZM1107 109H1142V127H1107ZM1755 109H1790V127H1755ZM1142 92H1160V109H1142ZM1738 92H1755V109H1738ZM1160 74H1177V92H1160ZM1720 74H1738V92H1720ZM1160 57H1177V74H1160ZM1720 57H1738V74H1720ZM1177 39H1195V57H1177ZM1703 39H1720V57H1703ZM1177 22H1195V39H1177ZM1703 22H1720V39H1703Z" fill="#00cfff"/>
<path d="M1195 773H1212V791H1195ZM1685 773H1703V791H1685ZM1195 756H1212V773H1195ZM1685 756H1703V773H1685ZM1195 738H1212V756H1195ZM1685 738H1703V756H1685ZM1177 721H1212V738H1177ZM1685 721H1720V738H1685ZM1177 704H1195V721H1177ZM1703 704H1720V721H1703ZM1160 686H1177V704H1160ZM1720 686H1738V704H1720ZM1142 669H1177V686H1142ZM1720 669H1755V686H1720ZM1107 651H1142V669H1107ZM1755 651H1790V669H1755ZM1054 634H1125V651H1054ZM1773 634H1826V651H1773ZM1054 144H1125V162H1054ZM1773 144H1826V162H1773ZM1107 127H1142V144H1107ZM1755 127H1790V144H1755ZM1142 109H1177V127H1142ZM1720 109H1755V127H1720ZM1160 92H1177V109H1160ZM1720 92H1738V109H1720ZM1177 74H1195V92H1177ZM1703 74H1720V92H1703ZM1177 57H1212V74H1177ZM1685 57H1720V74H1685ZM1195 39H1212V57H1195ZM1685 39H1703V57H1685ZM1195 22H1212V39H1195ZM1685 22H1703V39H1685Z" fill="#00dfff"/>
<path d="M1212 773H1247V791H1212ZM1650 773H1685V791H1650ZM1212 756H1247V773H1212ZM1650 756H1685V773H1650ZM1212 738H1230V756H1212ZM1668 738H1685V756H1668ZM1212 721H1230V738H1212ZM1668 721H1685V738H1668ZM1195 704H1230V721H1195ZM1668 704H1703V721H1668ZM1177 686H1212V704H1177ZM1685 686H1720V704H1685ZM1177 669H1195V686H1177ZM1703 669H1720V686H1703ZM1142 651H1177V669H1142ZM1720 651H1755V669H1720ZM1125 634H1160V651H1125ZM1738 634H1773V651H1738ZM1054 616H1142V634H1054ZM1755 616H1826V634H1755ZM1054 599H1090V616H1054ZM1808 599H1826V616H1808ZM1054 179H1090V197H1054ZM1808 179H1826V197H1808ZM1054 162H1142V179H1054ZM1755 162H1826V179H1755ZM1125 144H1160V162H1125ZM1738 144H1773V162H1738ZM1142 127H1177V144H1142ZM1720 127H1755V144H1720ZM1177 109H1195V127H1177ZM1703 109H1720V127H1703ZM1177 92H1212V109H1177ZM1685 92H1720V109H1685ZM1195 74H1230V92H1195ZM1668 74H1703V92H1668ZM1212 57H1230V74H1212ZM1668 57H1685V74H1668ZM1212 39H1230V57H1212ZM1668 39H1685V57H1668ZM1212 22H1247V39H1212ZM1650 22H1685V39H1650Z" fill="#00efff"/>
<path d="M1247 773H1282V791H1247ZM1615 773H1650V791H1615ZM1247 756H1282V773H1247ZM1615 756H1650V773H1615ZM1230 738H1265V756H1230ZM1633 738H1668V756H1633ZM1230 721H1265V738H1230ZM1633 721H1668V738H1633ZM1230 704H1265V721H1230ZM1633 704H1668V721H1633ZM1212 686H1247V704H1212ZM1650 686H1685V704H1650ZM1195 669H1230V686H1195ZM1668 669H1703V686H1668ZM1177 651H1212V669H1177ZM1685 651H1720V669H1685ZM1160 634H1212V651H1160ZM1685 634H1738V651H1685ZM1142 616H1177V634H1142ZM1720 616H1755V634H1720ZM1090 599H1160V616H1090ZM1738 599H1808V616H1738ZM1054 581H1142V599H1054ZM1755 581H1826V599H1755ZM1054 564H1090V581H1054ZM1808 564H1826V581H1808ZM1054 214H1090V232H1054ZM1808 214H1826V232H1808ZM1054 197H1142V214H1054ZM1755 197H1826V214H1755ZM1090 179H1160V197H1090ZM1738 179H1808V197H1738ZM1142 162H1177V179H1142ZM1720 162H1755V179H1720ZM1160 144H1212V162H1160ZM1685 144H1738V162H1685ZM1177 127H1212V144H1177ZM1685 127H1720V144H1685ZM1195 109H1230V127H1195ZM1668 109H1703V127H1668ZM1212 92H1247V109H1212ZM1650 92H1685V109H1650ZM1230 74H1265V92H1230ZM1633 74H1668V92H1633ZM1230 57H1265V74H1230ZM1633 57H1668V74H1633ZM1230 39H1265V57H1230ZM1633 39H1668V57H1633ZM1247 22H1282V39H1247ZM1615 22H1650V39H1615Z" fill="#00ffff"/>
<path d="M1282 773H1317V791H1282ZM1580 773H1615V791H1580ZM1282 756H1317V773H1282ZM1580 756H1615V773H1580ZM1265 738H1317V756H1265ZM1580 738H1633V756H1580ZM1265 721H1300V738H1265ZM1598 721H1633V738H1598ZM1265 704H1300V721H1265ZM1598 704H1633V721H1598ZM1247 686H1282V704H1247ZM1615 686H1650V704H1615ZM1230 669H1282V686H1230ZM1615 669H1668V686H1615ZM1212 651H1265V669H1212ZM1633 651H1685V669H1633ZM1212 634H1247V651H1212ZM1650 634H1685V651H1650ZM1177 616H1230V634H1177ZM1668 616H1720V634H1668ZM1160 599H1212V616H1160ZM1685 599H1738V616H1685ZM1142 581H1195V599H1142ZM1703 581H1755V599H1703ZM1090 564H1177V581H1090ZM1720 564H1808V581H1720ZM1054 546H1142V564H1054ZM1755 546H1826V564H1755ZM1054 529H1107V546H1054ZM1790 529H1826V546H1790ZM1054 249H1107V267H1054ZM1790 249H1826V267H1790ZM1054 232H1142V249H1054ZM1755 232H1826V249H1755ZM1090 214H1177V232H1090ZM1720 214H1808V232H1720ZM1142 197H1195V214H1142ZM1703 197H1755V214H1703ZM1160 179H1212V197H1160ZM1685 179H1738V197H1685ZM1177 162H1230V179H1177ZM1668 162H1720V179H1668ZM1212 144H1247V162H1212ZM1650 144H1685V162H1650ZM1212 127H1265V144H1212ZM1633 127H1685V144H1633ZM1230 109H1282V127H1230ZM1615 109H1668V127H1615ZM1247 92H1282V109H1247ZM1615 92H1650V109H1615ZM1265 74H1300V92H1265ZM1598 74H1633V92H1598ZM1265 57H1300V74H1265ZM1598 57H1633V74H1598ZM1265 39H1317V57H1265ZM1580 39H1633V57H1580ZM1282 22H1317V39H1282ZM1580 22H1615V39H1580Z" fill="#10ffef"/>
<path d="M1317 773H1405V791H1317ZM1493 773H1580V791H1493ZM1317 756H1387V773H1317ZM1510 756H1580V773H1510ZM1317 738H1387V756H1317ZM1510 738H1580V756H1510ZM1300 721H1370V738H1300ZM1528 721H1598V738H1528ZM1300 704H1352V721H1300ZM1545 704H1598V721H1545ZM1282 686H1335V704H1282ZM1563 686H1615V704H1563ZM1282 669H1317V686H1282ZM1580 669H1615V686H1580ZM1265 651H1300V669H1265ZM1598 651H1633V669H1598ZM1247 634H1282V651H1247ZM1615 634H1650V651H1615ZM1230 616H1282V634H1230ZM1615 616H1668V634H1615ZM1212 599H1265V616H1212ZM1633 599H1685V616H1633ZM1195 581H1247V599H1195ZM1650 581H1703V599H1650ZM1177 564H1230V581H1177ZM1668 564H1720V581H1668ZM1142 546H1195V564H1142ZM1703 546H1755V564H1703ZM1107 529H1177V546H1107ZM1720 529H1790V546H1720ZM1054 511H1160V529H1054ZM1738 511H1826V529H1738ZM1054 494H1142V511H1054ZM1755 494H1826V511H1755ZM1054 476H1125V494H1054ZM1773 476H1826V494H1773ZM1054 459H1107V476H1054ZM1790 459H1826V476H1790ZM1054 441H1072V459H1054ZM1054 337H1072V354H1054ZM1054 319H1107V337H1054ZM1790 319H1826V337H1790ZM1054 302H1125V319H1054ZM1773 302H1826V319H1773ZM1054 284H1142V302H1054ZM1755 284H1826V302H1755ZM1054 267H1160V284H1054ZM1738 267H1826V284H1738ZM1107 249H1177V267H1107ZM1720 249H1790V267H1720ZM1142 232H1195V249H1142ZM1703 232H1755V249H1703ZM1177 214H1230V232H1177ZM1668 214H1720V232H1668ZM1195 197H1247V214H1195ZM1650 197H1703V214H1650ZM1212 179H1265V197H1212ZM1633 179H1685V197H1633ZM1230 162H1282V179H1230ZM1615 162H1668V179H1615ZM1247 144H1282V162H1247ZM1615 144H1650V162H1615ZM1265 127H1300V144H1265ZM1598 127H1633V144H1598ZM1282 109H1317V127H1282ZM1580 109H1615V127H1580ZM1282 92H1335V109H1282ZM1563 92H1615V109H1563ZM1300 74H1352V92H1300ZM1545 74H1598V92H1545ZM1300 57H1370V74H1300ZM1528 57H1598V74H1528ZM1317 39H1387V57H1317ZM1510 39H1580V57H1510ZM1317 22H1387V39H1317ZM1510 22H1580V39H1510Z" fill="#20ffdf"/>
<path d="M1405 773H1493V791H1405ZM1387 756H1510V773H1387ZM1387 738H1510V756H1387ZM1370 721H1528V738H1370ZM1352 704H1545V721H1352ZM1335 686H1563V704H1335ZM1317 669H1405V686H1317ZM1493 669H1580V686H1493ZM1300 651H1370V669H1300ZM1528 651H1598V669H1528ZM1282 634H1352V651H1282ZM1545 634H1615V651H1545ZM1282 616H1317V634H1282ZM1580 616H1615V634H1580ZM1265 599H1300V616H1265ZM1598 599H1633V616H1598ZM1247 581H1282V599H1247ZM1615 581H1650V599H1615ZM1230 564H1265V581H1230ZM1633 564H1668V581H1633ZM1195 546H1247V564H1195ZM1650 546H1703V564H1650ZM1177 529H1230V546H1177ZM1668 529H1720V546H1668ZM1160 511H1212V529H1160ZM1685 511H1738V529H1685ZM1142 494H1212V511H1142ZM1685 494H1755V511H1685ZM1125 476H1195V494H1125ZM1703 476H1773V494H1703ZM1107 459H1177V476H1107ZM1720 459H1790V476H1720ZM1072 441H1177V459H1072ZM1720 441H1826V459H1720ZM1054 424H1160V441H1054ZM1738 424H1826V441H1738ZM1054 406H1160V424H1054ZM1738 406H1826V424H1738ZM1054 389H1160V406H1054ZM1738 389H1826V406H1738ZM1054 372H1160V389H1054ZM1738 372H1826V389H1738ZM1054 354H1160V372H1054ZM1738 354H1826V372H1738ZM1072 337H1177V354H1072ZM1720 337H1826V354H1720ZM1107 319H1177V337H1107ZM1720 319H1790V337H1720ZM1125 302H1195V319H1125ZM1703 302H1773V319H1703ZM1142 284H1212V302H1142ZM1685 284H1755V302H1685ZM1160 267H1212V284H1160ZM1685 267H1738V284H1685ZM1177 249H1230V267H1177ZM1668 249H1720V267H1668ZM1195 232H1247V249H1195ZM1650 232H1703V249H1650ZM1230 214H1265V232H1230ZM1633 214H1668V232H1633ZM1247 197H1282V214H1247ZM1615 197H1650V214H1615ZM1265 179H1300V197H1265ZM1598 179H1633V197H1598ZM1282 162H1317V179H1282ZM1580 162H1615V179H1580ZM1282 144H1352V162H1282ZM1545 144H1615V162H1545ZM1300 127H1370V144H1300ZM1528 127H1598V144H1528ZM1317 109H1405V127H1317ZM1493 109H1580V127H1493ZM1335 92H1563V109H1335ZM1352 74H1545V92H1352ZM1370 57H1528V74H1370ZM1387 39H1510V57H1387ZM1387 22H1510V39H1387Z" fill="#30ffcf"/>
<path d="M1405 669H1493V686H1405ZM1370 651H1528V669H1370ZM1352 634H1545V651H1352ZM1317 616H1405V634H1317ZM1493 616H1580V634H1493ZM1300 599H1352V616H1300ZM1545 599H1598V616H1545ZM1282 581H1335V599H1282ZM1563 581H1615V599H1563ZM1265 564H1317V581H1265ZM1580 564H1633V581H1580ZM1247 546H1300V564H1247ZM1598 546H1650V564H1598ZM1230 529H1282V546H1230ZM1615 529H1668V546H1615ZM1212 511H1265V529H1212ZM1633 511H1685V529H1633ZM1212 494H1247V511H1212ZM1650 494H1685V511H1650ZM1195 476H1230V494H1195ZM1668 476H1703V494H1668ZM1177 459H1230V476H1177ZM1668 459H1720V476H1668ZM1177 441H1230V459H1177ZM1668 441H1720V459H1668ZM1160 424H1212V441H1160ZM1685 424H1738V441H1685ZM1160 406H1212V424H1160ZM1685 406H1738V424H1685ZM1160 389H1212V406H1160ZM1685 389H1738V406H1685ZM1160 372H1212V389H1160ZM1685 372H1738V389H1685ZM1160 354H1212V372H1160ZM1685 354H1738V372H1685ZM1177 337H1230V354H1177ZM1668 337H1720V354H1668ZM1177 319H1230V337H1177ZM1668 319H1720V337H1668ZM1195 302H1230V319H1195ZM1668 302H1703V319H1668ZM1212 284H1247V302H1212ZM1650 284H1685V302H1650ZM1212 267H1265V284H1212ZM1633 267H1685V284H1633ZM1230 249H1282V267H1230ZM1615 249H1668V267H1615ZM1247 232H1300V249H1247ZM1598 232H1650V249H1598ZM1265 214H1317V232H1265ZM1580 214H1633V232H1580ZM1282 197H1335V214H1282ZM1563 197H1615V214H1563ZM1300 179H1352V197H1300ZM1545 179H1598V197H1545ZM1317 162H1405V179H1317ZM1493 162H1580V179H1493ZM1352 144H1545V162H1352ZM1370 127H1528V144H1370ZM1405 109H1493V127H1405Z" fill="#40ffbf"/>
<path d="M1405 616H1493V634H1405ZM1352 599H1545V616H1352ZM1335 581H1405V599H1335ZM1493 581H1563V599H1493ZM1317 564H1352V581H1317ZM1545 564H1580V581H1545ZM1300 546H1335V564H1300ZM1563 546H1598V564H1563ZM1282 529H1317V546H1282ZM1580 529H1615V546H1580ZM1265 511H1300V529H1265ZM1598 511H1633V529H1598ZM1247 494H1282V511H1247ZM1615 494H1650V511H1615ZM1230 476H1265V494H1230ZM1633 476H1668V494H1633ZM1230 459H1265V476H1230ZM1633 459H1668V476H1633ZM1230 441H1265V459H1230ZM1633 441H1668V459H1633ZM1212 424H1247V441H1212ZM1650 424H1685V441H1650ZM1212 406H1247V424H1212ZM1650 406H1685V424H1650ZM1212 389H1247V406H1212ZM1650 389H1685V406H1650ZM1212 372H1247V389H1212ZM1650 372H1685V389H1650ZM1212 354H1247V372H1212ZM1650 354H1685V372H1650ZM1230 337H1265V354H1230ZM1633 337H1668V354H1633ZM1230 319H1265V337H1230ZM1633 319H1668V337H1633ZM1230 302H1265V319H1230ZM1633 302H1668V319H1633ZM1247 284H1282V302H1247ZM1615 284H1650V302H1615ZM1265 267H1300V284H1265ZM1598 267H1633V284H1598ZM1282 249H1317V267H1282ZM1580 249H1615V267H1580ZM1300 232H1335V249H1300ZM1563 232H1598V249H1563ZM1317 214H1352V232H1317ZM1545 214H1580V232H1545ZM1335 197H1405V214H1335ZM1493 197H1563V214H1493ZM1352 179H1545V197H1352ZM1405 162H1493V179H1405Z" fill="#50ffaf"/>
<path d="M1405 581H1493V599H1405ZM1352 564H1545V581H1352ZM1335 546H1387V564H1335ZM1510 546H1563V564H1510ZM1317 529H1352V546H1317ZM1545 529H1580V546H1545ZM1300 511H1335V529H1300ZM1563 511H1598V529H1563ZM1282 494H1317V511H1282ZM1580 494H1615V511H1580ZM1265 476H1300V494H1265ZM1598 476H1633V494H1598ZM1265 459H1300V476H1265ZM1598 459H1633V476H1598ZM1265 441H1282V459H1265ZM1615 441H1633V459H1615ZM1247 424H1282V441H1247ZM1615 424H1650V441H1615ZM1247 406H1282V424H1247ZM1615 406H1650V424H1615ZM1247 389H1282V406H1247ZM1615 389H1650V406H1615ZM1247 372H1282V389H1247ZM1615 372H1650V389H1615ZM1247 354H1282V372H1247ZM1615 354H1650V372H1615ZM1265 337H1282V354H1265ZM1615 337H1633V354H1615ZM1265 319H1300V337H1265ZM1598 319H1633V337H1598ZM1265 302H1300V319H1265ZM1598 302H1633V319H1598ZM1282 284H1317V302H1282ZM1580 284H1615V302H1580ZM1300 267H1335V284H1300ZM1563 267H1598V284H1563ZM1317 249H1352V267H1317ZM1545 249H1580V267H1545ZM1335 232H1387V249H1335ZM1510 232H1563V249H1510ZM1352 214H1545V232H1352ZM1405 197H1493V214H1405Z" fill="#60ff9f"/>
<path d="M1387 546H1510V564H1387ZM1352 529H1387V546H1352ZM1510 529H1545V546H1510ZM1335 511H1370V529H1335ZM1528 511H1563V529H1528ZM1317 494H1352V511H1317ZM1545 494H1580V511H1545ZM1300 476H1335V494H1300ZM1563 476H1598V494H1563ZM1300 459H1317V476H1300ZM1580 459H1598V476H1580ZM1282 441H1300V459H1282ZM1598 441H1615V459H1598ZM1282 424H1300V441H1282ZM1598 424H1615V441H1598ZM1282 406H1300V424H1282ZM1598 406H1615V424H1598ZM1282 389H1300V406H1282ZM1598 389H1615V406H1598ZM1282 372H1300V389H1282ZM1598 372H1615V389H1598ZM1282 354H1300V372H1282ZM1598 354H1615V372H1598ZM1282 337H1300V354H1282ZM1598 337H1615V354H1598ZM1300 319H1317V337H1300ZM1580 319H1598V337H1580ZM1300 302H1335V319H1300ZM1563 302H1598V319H1563ZM1317 284H1352V302H1317ZM1545 284H1580V302H1545ZM1335 267H1370V284H1335ZM1528 267H1563V284H1528ZM1352 249H1387V267H1352ZM1510 249H1545V267H1510ZM1387 232H1510V249H1387Z" fill="#70ff8f"/>
<path d="M1387 529H1510V546H1387ZM1370 511H1405V529H1370ZM1493 511H1528V529H1493ZM1352 494H1370V511H1352ZM1528 494H1545V511H1528ZM1335 476H1352V494H1335ZM1545 476H1563V494H1545ZM1317 459H1335V476H1317ZM1563 459H1580V476H1563ZM1300 441H1335V459H1300ZM1563 441H1598V459H1563ZM1300 424H1317V441H1300ZM1580 424H1598V441H1580ZM1300 406H1317V424H1300ZM1580 406H1598V424H1580ZM1300 389H1317V406H1300ZM1580 389H1598V406H1580ZM1300 372H1317V389H1300ZM1580 372H1598V389H1580ZM1300 354H1317V372H1300ZM1580 354H1598V372H1580ZM1300 337H1335V354H1300ZM1563 337H1598V354H1563ZM1317 319H1335V337H1317ZM1563 319H1580V337H1563ZM1335 302H1352V319H1335ZM1545 302H1563V319H1545ZM1352 284H1370V302H1352ZM1528 284H1545V302H1528ZM1370 267H1405V284H1370ZM1493 267H1528V284H1493ZM1387 249H1510V267H1387Z" fill="#80ff80"/>
<path d="M1405 511H1493V529H1405ZM1370 494H1405V511H1370ZM1493 494H1528V511H1493ZM1352 476H1370V494H1352ZM1528 476H1545V494H1528ZM1335 459H1352V476H1335ZM1545 459H1563V476H1545ZM1335 441H1352V459H1335ZM1545 441H1563V459H1545ZM1317 424H1335V441H1317ZM1563 424H1580V441H1563ZM1317 406H1335V424H1317ZM1563 406H1580V424H1563ZM1317 389H1335V406H1317ZM1563 389H1580V406H1563ZM1317 372H1335V389H1317ZM1563 372H1580V389H1563ZM1317 354H1335V372H1317ZM1563 354H1580V372H1563ZM1335 337H1352V354H1335ZM1545 337H1563V354H1545ZM1335 319H1352V337H1335ZM1545 319H1563V337H1545ZM1352 302H1370V319H1352ZM1528 302H1545V319H1528ZM1370 284H1405V302H1370ZM1493 284H1528V302H1493ZM1405 267H1493V284H1405Z" fill="#8fff70"/>
<path d="M1405 494H1493V511H1405ZM1370 476H1405V494H1370ZM1493 476H1528V494H1493ZM1352 459H1370V476H1352ZM1528 459H1545V476H1528ZM1352 441H1370V459H1352ZM1528 441H1545V459H1528ZM1335 424H1352V441H1335ZM1545 424H1563V441H1545ZM1335 406H1352V424H1335ZM1545 406H1563V424H1545ZM1335 389H1352V406H1335ZM1545 389H1563V406H1545ZM1335 372H1352V389H1335ZM1545 372H1563V389H1545ZM1335 354H1352V372H1335ZM1545 354H1563V372H1545ZM1352 337H1370V354H1352ZM1528 337H1545V354H1528ZM1352 319H1370V337H1352ZM1528 319H1545V337H1528ZM1370 302H1405V319H1370ZM1493 302H1528V319H1493ZM1405 284H1493V302H1405Z" fill="#9fff60"/>
<path d="M1405 476H1422V494H1405ZM1475 476H1493V494H1475ZM1370 459H1387V476H1370ZM1510 459H1528V476H1510ZM1352 424H1370V441H1352ZM1528 424H1545V441H1528ZM1352 354H1370V372H1352ZM1528 354H1545V372H1528ZM1370 319H1387V337H1370ZM1510 319H1528V337H1510ZM1405 302H1422V319H1405ZM1475 302H1493V319H1475Z" fill="#afff50"/>
<path d="M1422 476H1475V494H1422ZM1387 459H1405V476H1387ZM1493 459H1510V476H1493ZM1370 441H1387V459H1370ZM1510 441H1528V459H1510ZM1352 406H1370V424H1352ZM1528 406H1545V424H1528ZM1352 389H1370V406H1352ZM1528 389H1545V406H1528ZM1352 372H1370V389H1352ZM1528 372H1545V389H1528ZM1370 337H1387V354H1370ZM1510 337H1528V354H1510ZM1387 319H1405V337H1387ZM1493 319H1510V337H1493ZM1422 302H1475V319H1422Z" fill="#bfff40"/>
<path d="M1405 459H1440V476H1405ZM1458 459H1493V476H1458ZM1387 441H1405V459H1387ZM1493 441H1510V459H1493ZM1370 424H1387V441H1370ZM1510 424H1528V441H1510ZM1370 406H1387V424H1370ZM1510 406H1528V424H1510ZM1370 372H1387V389H1370ZM1510 372H1528V389H1510ZM1370 354H1387V372H1370ZM1510 354H1528V372H1510ZM1387 337H1405V354H1387ZM1493 337H1510V354H1493ZM1405 319H1440V337H1405ZM1458 319H1493V337H1458Z" fill="#cfff30"/>
<path d="M1440 459H1458V476H1440ZM1405 441H1422V459H1405ZM1475 441H1493V459H1475ZM1387 424H1405V441H1387ZM1493 424H1510V441H1493ZM1370 389H1387V406H1370ZM1510 389H1528V406H1510ZM1387 354H1405V372H1387ZM1493 354H1510V372H1493ZM1405 337H1422V354H1405ZM1475 337H1493V354H1475ZM1440 319H1458V337H1440Z" fill="#dfff20"/>
<path d="M1422 441H1475V459H1422ZM1405 424H1422V441H1405ZM1475 424H1493V441H1475ZM1387 406H1405V424H1387ZM1493 406H1510V424H1493ZM1387 389H1405V406H1387ZM1493 389H1510V406H1493ZM1387 372H1405V389H1387ZM1493 372H1510V389H1493ZM1405 354H1422V372H1405ZM1475 354H1493V372H1475ZM1422 337H1475V354H1422Z" fill="#ffff00"/>
<path d="M1422 424H1440V441H1422ZM1458 424H1475V441H1458ZM1405 406H1422V424H1405ZM1475 406H1493V424H1475ZM1405 372H1422V389H1405ZM1475 372H1493V389H1475ZM1422 354H1440V372H1422ZM1458 354H1475V372H1458Z" fill="#ffcf00"/>
<path d="M1440 424H1458V441H1440ZM1405 389H1422V406H1405ZM1475 389H1493V406H1475ZM1440 354H1458V372H1440Z" fill="#ffbf00"/>
<path d="M1422 406H1440V424H1422ZM1458 406H1475V424H1458ZM1422 372H1440V389H1422ZM1458 372H1475V389H1458Z" fill="#ff9f00"/>
<path d="M1440 406H1458V424H1440ZM1422 389H1440V406H1422ZM1458 389H1475V406H1458ZM1440 372H1458V389H1440Z" fill="#ff6000"/>
<path d="M1440 389H1458V406H1440Z" fill="#800000"/>
</g>
<g font-family="'Liberation Sans', sans-serif" font-size="31.8" fill="#000">
<text transform="translate(1125.1 827.0) scale(0.903 1)" text-anchor="middle">0.1</text>
<text transform="translate(1048.6 731.5) scale(0.903 1)" text-anchor="end">0.1</text>
<text transform="translate(1203.9 827.0) scale(0.903 1)" text-anchor="middle">0.2</text>
<text transform="translate(1048.6 652.9) scale(0.903 1)" text-anchor="end">0.2</text>
<text transform="translate(1282.8 827.0) scale(0.903 1)" text-anchor="middle">0.3</text>
<text transform="translate(1048.6 574.2) scale(0.903 1)" text-anchor="end">0.3</text>
<text transform="translate(1361.6 827.0) scale(0.903 1)" text-anchor="middle">0.4</text>
<text transform="translate(1048.6 495.6) scale(0.903 1)" text-anchor="end">0.4</text>
<text transform="translate(1440.5 827.0) scale(0.903 1)" text-anchor="middle">0.5</text>
<text transform="translate(1048.6 417.0) scale(0.903 1)" text-anchor="end">0.5</text>
<text transform="translate(1519.4 827.0) scale(0.903 1)" text-anchor="middle">0.6</text>
<text transform="translate(1048.6 338.3) scale(0.903 1)" text-anchor="end">0.6</text>
<text transform="translate(1598.2 827.0) scale(0.903 1)" text-anchor="middle">0.7</text>
<text transform="translate(1048.6 259.7) scale(0.903 1)" text-anchor="end">0.7</text>
<text transform="translate(1677.1 827.0) scale(0.903 1)" text-anchor="middle">0.8</text>
<text transform="translate(1048.6 181.0) scale(0.903 1)" text-anchor="end">0.8</text>
<text transform="translate(1755.9 827.0) scale(0.903 1)" text-anchor="middle">0.9</text>
<text transform="translate(1048.6 102.4) scale(0.903 1)" text-anchor="end">0.9</text>
</g>
<g shape-rendering="crispEdges">
<rect x="1867" y="779" width="57" height="12" fill="#00008f"/>
<rect x="1867" y="767" width="57" height="12" fill="#00009f"/>
<rect x="1867" y="755" width="57" height="12" fill="#0000af"/>
<rect x="1867" y="743" width="57" height="12" fill="#0000bf"/>
<rect x="1867" y="731" width="57" height="12" fill="#0000cf"/>
<rect x="1867" y="719" width="57" height="12" fill="#0000df"/>
<rect x="1867" y="707" width="57" height="12" fill="#0000ef"/>
<rect x="1867" y="695" width="57" height="12" fill="#0000ff"/>
<rect x="1867" y="683" width="57" height="12" fill="#0010ff"/>
<rect x="1867" y="671" width="57" height="12" fill="#0020ff"/>
<rect x="1867" y="659" width="57" height="12" fill="#0030ff"/>
<rect x="1867" y="647" width="57" height="12" fill="#0040ff"/>
<rect x="1867" y="634" width="57" height="13" fill="#0050ff"/>
<rect x="1867" y="622" width="57" height="12" fill="#0060ff"/>
<rect x="1867" y="610" width="57" height="12" fill="#0070ff"/>
<rect x="1867" y="598" width="57" height="12" fill="#0080ff"/>
<rect x="1867" y="586" width="57" height="12" fill="#008fff"/>
<rect x="1867" y="574" width="57" height="12" fill="#009fff"/>
<rect x="1867" y="562" width="57" height="12" fill="#00afff"/>
<rect x="1867" y="550" width="57" height="12" fill="#00bfff"/>
<rect x="1867" y="538" width="57" height="12" fill="#00cfff"/>
<rect x="1867" y="526" width="57" height="12" fill="#00dfff"/>
<rect x="1867" y="514" width="57" height="12" fill="#00efff"/>
<rect x="1867" y="502" width="57" height="12" fill="#00ffff"/>
<rect x="1867" y="490" width="57" height="12" fill="#10ffef"/>
<rect x="1867" y="478" width="57" height="12" fill="#20ffdf"/>
<rect x="1867" y="466" width="57" height="12" fill="#30ffcf"/>
<rect x="1867" y="454" width="57" height="12" fill="#40ffbf"/>
<rect x="1867" y="442" width="57" height="12" fill="#50ffaf"/>
<rect x="1867" y="430" width="57" height="12" fill="#60ff9f"/>
<rect x="1867" y="418" width="57" height="12" fill="#70ff8f"/>
<rect x="1867" y="406" width="57" height="12" fill="#80ff80"/>
<rect x="1867" y="394" width="57" height="12" fill="#8fff70"/>
<rect x="1867" y="382" width="57" height="12" fill="#9fff60"/>
<rect x="1867" y="370" width="57" height="12" fill="#afff50"/>
<rect x="1867" y="358" width="57" height="12" fill="#bfff40"/>
<rect x="1867" y="346" width="57" height="12" fill="#cfff30"/>
<rect x="1867" y="334" width="57" height="12" fill="#dfff20"/>
<rect x="1867" y="322" width="57" height="12" fill="#efff10"/>
<rect x="1867" y="310" width="57" height="12" fill="#ffff00"/>
<rect x="1867" y="298" width="57" height="12" fill="#ffef00"/>
<rect x="1867" y="286" width="57" height="12" fill="#ffdf00"/>
<rect x="1867" y="274" width="57" height="12" fill="#ffcf00"/>
<rect x="1867" y="262" width="57" height="12" fill="#ffbf00"/>
<rect x="1867" y="250" width="57" height="12" fill="#ffaf00"/>
<rect x="1867" y="238" width="57" height="12" fill="#ff9f00"/>
<rect x="1867" y="226" width="57" height="12" fill="#ff8f00"/>
<rect x="1867" y="214" width="57" height="12" fill="#ff8000"/>
<rect x="1867" y="202" width="57" height="12" fill="#ff7000"/>
<rect x="1867" y="190" width="57" height="12" fill="#ff6000"/>
<rect x="1867" y="178" width="57" height="12" fill="#ff5000"/>
<rect x="1867" y="166" width="57" height="12" fill="#ff4000"/>
<rect x="1867" y="154" width="57" height="12" fill="#ff3000"/>
<rect x="1867" y="142" width="57" height="12" fill="#ff2000"/>
<rect x="1867" y="130" width="57" height="12" fill="#ff1000"/>
<rect x="1867" y="118" width="57" height="12" fill="#ff0000"/>
<rect x="1867" y="106" width="57" height="12" fill="#ef0000"/>
<rect x="1867" y="94" width="57" height="12" fill="#df0000"/>
<rect x="1867" y="82" width="57" height="12" fill="#cf0000"/>
<rect x="1867" y="70" width="57" height="12" fill="#bf0000"/>
<rect x="1867" y="58" width="57" height="12" fill="#af0000"/>
<rect x="1867" y="46" width="57" height="12" fill="#9f0000"/>
<rect x="1867" y="34" width="57" height="12" fill="#8f0000"/>
<rect x="1867" y="22" width="57" height="12" fill="#800000"/>
</g>
<path d="M1867.2 754.5H1875.2M1923.6 754.5H1915.6M1867.2 684.5H1875.2M1923.6 684.5H1915.6M1867.2 615.5H1875.2M1923.6 615.5H1915.6M1867.2 545.5H1875.2M1923.6 545.5H1915.6M1867.2 476.5H1875.2M1923.6 476.5H1915.6M1867.2 406.5H1875.2M1923.6 406.5H1915.6M1867.2 337.5H1875.2M1923.6 337.5H1915.6M1867.2 267.5H1875.2M1923.6 267.5H1915.6M1867.2 198.5H1875.2M1923.6 198.5H1915.6M1867.2 128.5H1875.2M1923.6 128.5H1915.6M1867.2 59.5H1875.2M1923.6 59.5H1915.6" fill="none" stroke="#000" stroke-width="3" shape-rendering="crispEdges"/>
<path d="M1866.1 21H1925V791.9H1866.1ZM1868 23.1V789.1H1922.1V23.1Z" fill="#000" fill-rule="evenodd"/>
<g font-family="'Liberation Sans', sans-serif" font-size="31.8" fill="#000">
<text transform="translate(1930.7 764.9) scale(0.903 1)"><tspan dy="4">−</tspan><tspan dy="-4">0.02</tspan></text>
<text transform="translate(1930.7 695.4) scale(0.903 1)"><tspan dy="4">−</tspan><tspan dy="-4">0.015</tspan></text>
<text transform="translate(1930.7 625.9) scale(0.903 1)"><tspan dy="4">−</tspan><tspan dy="-4">0.01</tspan></text>
<text transform="translate(1930.7 556.5) scale(0.903 1)"><tspan dy="4">−</tspan><tspan dy="-4">0.005</tspan></text>
<text transform="translate(1930.7 487.0) scale(0.903 1)">0</text>
<text transform="translate(1930.7 417.6) scale(0.903 1)">0.005</text>
<text transform="translate(1930.7 348.1) scale(0.903 1)">0.01</text>
<text transform="translate(1930.7 278.7) scale(0.903 1)">0.015</text>
<text transform="translate(1930.7 209.2) scale(0.903 1)">0.02</text>
<text transform="translate(1930.7 139.7) scale(0.903 1)">0.025</text>
<text transform="translate(1930.7 70.3) scale(0.903 1)">0.03</text>
</g>
<text font-family="'Liberation Serif', serif" fill="#000"><tspan x="31.05" y="996.73" font-size="85.56" textLength="27.04" lengthAdjust="spacingAndGlyphs">(</tspan><tspan x="57.90" y="997.37" font-size="85.89" textLength="40.00" lengthAdjust="spacingAndGlyphs" style="font-weight:bold">a</tspan><tspan x="99.89" y="996.73" font-size="85.56" textLength="25.62" lengthAdjust="spacingAndGlyphs">)</tspan><tspan x="125.65" y="997.00" font-size="68.50" textLength="112.87" lengthAdjust="spacingAndGlyphs">The</tspan> <tspan x="253.14" y="997.00" font-size="68.50" textLength="298.21" lengthAdjust="spacingAndGlyphs">numerical</tspan> <tspan x="568.20" y="997.00" font-size="68.50" textLength="230.95" lengthAdjust="spacingAndGlyphs">velocity</tspan></text>
<text font-family="'Liberation Serif', serif" fill="#000"><tspan x="1062.15" y="996.73" font-size="85.56" textLength="26.25" lengthAdjust="spacingAndGlyphs">(</tspan><tspan x="1088.94" y="996.94" font-size="86.43" textLength="50.28" lengthAdjust="spacingAndGlyphs" style="font-weight:bold">b</tspan><tspan x="1141.07" y="996.73" font-size="85.56" textLength="25.88" lengthAdjust="spacingAndGlyphs">)</tspan><tspan x="1167.13" y="997.00" font-size="68.50" textLength="93.68" lengthAdjust="spacingAndGlyphs">the</tspan> <tspan x="1275.13" y="997.00" font-size="68.50" textLength="298.31" lengthAdjust="spacingAndGlyphs">numerical</tspan> <tspan x="1588.67" y="997.00" font-size="68.50" textLength="251.75" lengthAdjust="spacingAndGlyphs">pressure</tspan> <tspan x="1859.42" y="997.00" font-size="69.62" textLength="39.65" lengthAdjust="spacingAndGlyphs" style="font-style:italic">P</tspan><tspan x="1892.64" y="1011.67" font-size="54.60" textLength="26.59" lengthAdjust="spacingAndGlyphs" style="font-style:italic">h</tspan></text>
</svg>
</body></html>
